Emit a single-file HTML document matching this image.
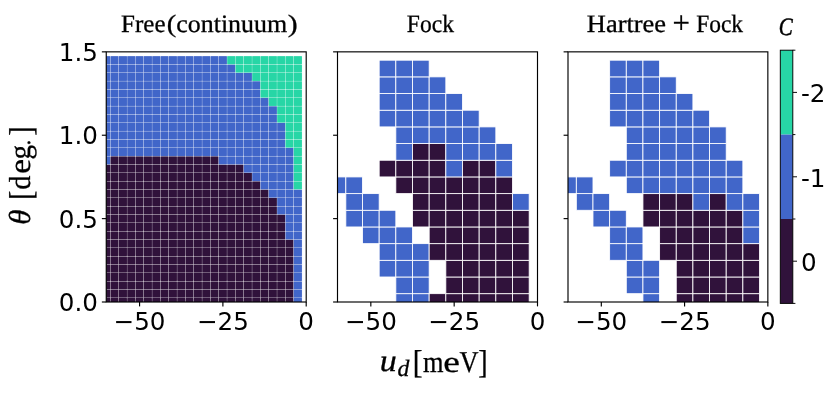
<!DOCTYPE html>
<html><head><meta charset="utf-8"><title>Chern number phase diagrams</title>
<style>html,body{margin:0;padding:0;background:#fff}svg{display:block}</style></head>
<body>
<svg width="830" height="393" viewBox="0 0 830 393">
<rect width="830" height="393" fill="#fff"/>
<defs>
<clipPath id="cp0"><rect x="106.25" y="51.85" width="199.95" height="250.15"/></clipPath>
<clipPath id="cp1"><rect x="337.50" y="51.85" width="200.00" height="250.15"/></clipPath>
<clipPath id="cp2"><rect x="568.00" y="51.85" width="199.85" height="250.15"/></clipPath>
</defs>
<g clip-path="url(#cp0)" stroke="#fff" stroke-width="0.195">
<rect x="102.08" y="297.83" width="8.33" height="8.34" fill="#30123b"/>
<rect x="110.42" y="297.83" width="8.33" height="8.34" fill="#30123b"/>
<rect x="118.75" y="297.83" width="8.33" height="8.34" fill="#30123b"/>
<rect x="127.08" y="297.83" width="8.33" height="8.34" fill="#30123b"/>
<rect x="135.41" y="297.83" width="8.33" height="8.34" fill="#30123b"/>
<rect x="143.74" y="297.83" width="8.33" height="8.34" fill="#30123b"/>
<rect x="152.07" y="297.83" width="8.33" height="8.34" fill="#30123b"/>
<rect x="160.40" y="297.83" width="8.33" height="8.34" fill="#30123b"/>
<rect x="168.73" y="297.83" width="8.33" height="8.34" fill="#30123b"/>
<rect x="177.07" y="297.83" width="8.33" height="8.34" fill="#30123b"/>
<rect x="185.40" y="297.83" width="8.33" height="8.34" fill="#30123b"/>
<rect x="193.73" y="297.83" width="8.33" height="8.34" fill="#30123b"/>
<rect x="202.06" y="297.83" width="8.33" height="8.34" fill="#30123b"/>
<rect x="210.39" y="297.83" width="8.33" height="8.34" fill="#30123b"/>
<rect x="218.72" y="297.83" width="8.33" height="8.34" fill="#30123b"/>
<rect x="227.05" y="297.83" width="8.33" height="8.34" fill="#30123b"/>
<rect x="235.38" y="297.83" width="8.33" height="8.34" fill="#30123b"/>
<rect x="243.72" y="297.83" width="8.33" height="8.34" fill="#30123b"/>
<rect x="252.05" y="297.83" width="8.33" height="8.34" fill="#30123b"/>
<rect x="260.38" y="297.83" width="8.33" height="8.34" fill="#30123b"/>
<rect x="268.71" y="297.83" width="8.33" height="8.34" fill="#30123b"/>
<rect x="277.04" y="297.83" width="8.33" height="8.34" fill="#30123b"/>
<rect x="285.37" y="297.83" width="8.33" height="8.34" fill="#30123b"/>
<rect x="293.70" y="297.83" width="8.33" height="8.34" fill="#4166c9"/>
<rect x="102.08" y="289.49" width="8.33" height="8.34" fill="#30123b"/>
<rect x="110.42" y="289.49" width="8.33" height="8.34" fill="#30123b"/>
<rect x="118.75" y="289.49" width="8.33" height="8.34" fill="#30123b"/>
<rect x="127.08" y="289.49" width="8.33" height="8.34" fill="#30123b"/>
<rect x="135.41" y="289.49" width="8.33" height="8.34" fill="#30123b"/>
<rect x="143.74" y="289.49" width="8.33" height="8.34" fill="#30123b"/>
<rect x="152.07" y="289.49" width="8.33" height="8.34" fill="#30123b"/>
<rect x="160.40" y="289.49" width="8.33" height="8.34" fill="#30123b"/>
<rect x="168.73" y="289.49" width="8.33" height="8.34" fill="#30123b"/>
<rect x="177.07" y="289.49" width="8.33" height="8.34" fill="#30123b"/>
<rect x="185.40" y="289.49" width="8.33" height="8.34" fill="#30123b"/>
<rect x="193.73" y="289.49" width="8.33" height="8.34" fill="#30123b"/>
<rect x="202.06" y="289.49" width="8.33" height="8.34" fill="#30123b"/>
<rect x="210.39" y="289.49" width="8.33" height="8.34" fill="#30123b"/>
<rect x="218.72" y="289.49" width="8.33" height="8.34" fill="#30123b"/>
<rect x="227.05" y="289.49" width="8.33" height="8.34" fill="#30123b"/>
<rect x="235.38" y="289.49" width="8.33" height="8.34" fill="#30123b"/>
<rect x="243.72" y="289.49" width="8.33" height="8.34" fill="#30123b"/>
<rect x="252.05" y="289.49" width="8.33" height="8.34" fill="#30123b"/>
<rect x="260.38" y="289.49" width="8.33" height="8.34" fill="#30123b"/>
<rect x="268.71" y="289.49" width="8.33" height="8.34" fill="#30123b"/>
<rect x="277.04" y="289.49" width="8.33" height="8.34" fill="#30123b"/>
<rect x="285.37" y="289.49" width="8.33" height="8.34" fill="#30123b"/>
<rect x="293.70" y="289.49" width="8.33" height="8.34" fill="#4166c9"/>
<rect x="102.08" y="281.15" width="8.33" height="8.34" fill="#30123b"/>
<rect x="110.42" y="281.15" width="8.33" height="8.34" fill="#30123b"/>
<rect x="118.75" y="281.15" width="8.33" height="8.34" fill="#30123b"/>
<rect x="127.08" y="281.15" width="8.33" height="8.34" fill="#30123b"/>
<rect x="135.41" y="281.15" width="8.33" height="8.34" fill="#30123b"/>
<rect x="143.74" y="281.15" width="8.33" height="8.34" fill="#30123b"/>
<rect x="152.07" y="281.15" width="8.33" height="8.34" fill="#30123b"/>
<rect x="160.40" y="281.15" width="8.33" height="8.34" fill="#30123b"/>
<rect x="168.73" y="281.15" width="8.33" height="8.34" fill="#30123b"/>
<rect x="177.07" y="281.15" width="8.33" height="8.34" fill="#30123b"/>
<rect x="185.40" y="281.15" width="8.33" height="8.34" fill="#30123b"/>
<rect x="193.73" y="281.15" width="8.33" height="8.34" fill="#30123b"/>
<rect x="202.06" y="281.15" width="8.33" height="8.34" fill="#30123b"/>
<rect x="210.39" y="281.15" width="8.33" height="8.34" fill="#30123b"/>
<rect x="218.72" y="281.15" width="8.33" height="8.34" fill="#30123b"/>
<rect x="227.05" y="281.15" width="8.33" height="8.34" fill="#30123b"/>
<rect x="235.38" y="281.15" width="8.33" height="8.34" fill="#30123b"/>
<rect x="243.72" y="281.15" width="8.33" height="8.34" fill="#30123b"/>
<rect x="252.05" y="281.15" width="8.33" height="8.34" fill="#30123b"/>
<rect x="260.38" y="281.15" width="8.33" height="8.34" fill="#30123b"/>
<rect x="268.71" y="281.15" width="8.33" height="8.34" fill="#30123b"/>
<rect x="277.04" y="281.15" width="8.33" height="8.34" fill="#30123b"/>
<rect x="285.37" y="281.15" width="8.33" height="8.34" fill="#30123b"/>
<rect x="293.70" y="281.15" width="8.33" height="8.34" fill="#4166c9"/>
<rect x="102.08" y="272.82" width="8.33" height="8.34" fill="#30123b"/>
<rect x="110.42" y="272.82" width="8.33" height="8.34" fill="#30123b"/>
<rect x="118.75" y="272.82" width="8.33" height="8.34" fill="#30123b"/>
<rect x="127.08" y="272.82" width="8.33" height="8.34" fill="#30123b"/>
<rect x="135.41" y="272.82" width="8.33" height="8.34" fill="#30123b"/>
<rect x="143.74" y="272.82" width="8.33" height="8.34" fill="#30123b"/>
<rect x="152.07" y="272.82" width="8.33" height="8.34" fill="#30123b"/>
<rect x="160.40" y="272.82" width="8.33" height="8.34" fill="#30123b"/>
<rect x="168.73" y="272.82" width="8.33" height="8.34" fill="#30123b"/>
<rect x="177.07" y="272.82" width="8.33" height="8.34" fill="#30123b"/>
<rect x="185.40" y="272.82" width="8.33" height="8.34" fill="#30123b"/>
<rect x="193.73" y="272.82" width="8.33" height="8.34" fill="#30123b"/>
<rect x="202.06" y="272.82" width="8.33" height="8.34" fill="#30123b"/>
<rect x="210.39" y="272.82" width="8.33" height="8.34" fill="#30123b"/>
<rect x="218.72" y="272.82" width="8.33" height="8.34" fill="#30123b"/>
<rect x="227.05" y="272.82" width="8.33" height="8.34" fill="#30123b"/>
<rect x="235.38" y="272.82" width="8.33" height="8.34" fill="#30123b"/>
<rect x="243.72" y="272.82" width="8.33" height="8.34" fill="#30123b"/>
<rect x="252.05" y="272.82" width="8.33" height="8.34" fill="#30123b"/>
<rect x="260.38" y="272.82" width="8.33" height="8.34" fill="#30123b"/>
<rect x="268.71" y="272.82" width="8.33" height="8.34" fill="#30123b"/>
<rect x="277.04" y="272.82" width="8.33" height="8.34" fill="#30123b"/>
<rect x="285.37" y="272.82" width="8.33" height="8.34" fill="#30123b"/>
<rect x="293.70" y="272.82" width="8.33" height="8.34" fill="#4166c9"/>
<rect x="102.08" y="264.48" width="8.33" height="8.34" fill="#30123b"/>
<rect x="110.42" y="264.48" width="8.33" height="8.34" fill="#30123b"/>
<rect x="118.75" y="264.48" width="8.33" height="8.34" fill="#30123b"/>
<rect x="127.08" y="264.48" width="8.33" height="8.34" fill="#30123b"/>
<rect x="135.41" y="264.48" width="8.33" height="8.34" fill="#30123b"/>
<rect x="143.74" y="264.48" width="8.33" height="8.34" fill="#30123b"/>
<rect x="152.07" y="264.48" width="8.33" height="8.34" fill="#30123b"/>
<rect x="160.40" y="264.48" width="8.33" height="8.34" fill="#30123b"/>
<rect x="168.73" y="264.48" width="8.33" height="8.34" fill="#30123b"/>
<rect x="177.07" y="264.48" width="8.33" height="8.34" fill="#30123b"/>
<rect x="185.40" y="264.48" width="8.33" height="8.34" fill="#30123b"/>
<rect x="193.73" y="264.48" width="8.33" height="8.34" fill="#30123b"/>
<rect x="202.06" y="264.48" width="8.33" height="8.34" fill="#30123b"/>
<rect x="210.39" y="264.48" width="8.33" height="8.34" fill="#30123b"/>
<rect x="218.72" y="264.48" width="8.33" height="8.34" fill="#30123b"/>
<rect x="227.05" y="264.48" width="8.33" height="8.34" fill="#30123b"/>
<rect x="235.38" y="264.48" width="8.33" height="8.34" fill="#30123b"/>
<rect x="243.72" y="264.48" width="8.33" height="8.34" fill="#30123b"/>
<rect x="252.05" y="264.48" width="8.33" height="8.34" fill="#30123b"/>
<rect x="260.38" y="264.48" width="8.33" height="8.34" fill="#30123b"/>
<rect x="268.71" y="264.48" width="8.33" height="8.34" fill="#30123b"/>
<rect x="277.04" y="264.48" width="8.33" height="8.34" fill="#30123b"/>
<rect x="285.37" y="264.48" width="8.33" height="8.34" fill="#30123b"/>
<rect x="293.70" y="264.48" width="8.33" height="8.34" fill="#4166c9"/>
<rect x="102.08" y="256.14" width="8.33" height="8.34" fill="#30123b"/>
<rect x="110.42" y="256.14" width="8.33" height="8.34" fill="#30123b"/>
<rect x="118.75" y="256.14" width="8.33" height="8.34" fill="#30123b"/>
<rect x="127.08" y="256.14" width="8.33" height="8.34" fill="#30123b"/>
<rect x="135.41" y="256.14" width="8.33" height="8.34" fill="#30123b"/>
<rect x="143.74" y="256.14" width="8.33" height="8.34" fill="#30123b"/>
<rect x="152.07" y="256.14" width="8.33" height="8.34" fill="#30123b"/>
<rect x="160.40" y="256.14" width="8.33" height="8.34" fill="#30123b"/>
<rect x="168.73" y="256.14" width="8.33" height="8.34" fill="#30123b"/>
<rect x="177.07" y="256.14" width="8.33" height="8.34" fill="#30123b"/>
<rect x="185.40" y="256.14" width="8.33" height="8.34" fill="#30123b"/>
<rect x="193.73" y="256.14" width="8.33" height="8.34" fill="#30123b"/>
<rect x="202.06" y="256.14" width="8.33" height="8.34" fill="#30123b"/>
<rect x="210.39" y="256.14" width="8.33" height="8.34" fill="#30123b"/>
<rect x="218.72" y="256.14" width="8.33" height="8.34" fill="#30123b"/>
<rect x="227.05" y="256.14" width="8.33" height="8.34" fill="#30123b"/>
<rect x="235.38" y="256.14" width="8.33" height="8.34" fill="#30123b"/>
<rect x="243.72" y="256.14" width="8.33" height="8.34" fill="#30123b"/>
<rect x="252.05" y="256.14" width="8.33" height="8.34" fill="#30123b"/>
<rect x="260.38" y="256.14" width="8.33" height="8.34" fill="#30123b"/>
<rect x="268.71" y="256.14" width="8.33" height="8.34" fill="#30123b"/>
<rect x="277.04" y="256.14" width="8.33" height="8.34" fill="#30123b"/>
<rect x="285.37" y="256.14" width="8.33" height="8.34" fill="#30123b"/>
<rect x="293.70" y="256.14" width="8.33" height="8.34" fill="#4166c9"/>
<rect x="102.08" y="247.80" width="8.33" height="8.34" fill="#30123b"/>
<rect x="110.42" y="247.80" width="8.33" height="8.34" fill="#30123b"/>
<rect x="118.75" y="247.80" width="8.33" height="8.34" fill="#30123b"/>
<rect x="127.08" y="247.80" width="8.33" height="8.34" fill="#30123b"/>
<rect x="135.41" y="247.80" width="8.33" height="8.34" fill="#30123b"/>
<rect x="143.74" y="247.80" width="8.33" height="8.34" fill="#30123b"/>
<rect x="152.07" y="247.80" width="8.33" height="8.34" fill="#30123b"/>
<rect x="160.40" y="247.80" width="8.33" height="8.34" fill="#30123b"/>
<rect x="168.73" y="247.80" width="8.33" height="8.34" fill="#30123b"/>
<rect x="177.07" y="247.80" width="8.33" height="8.34" fill="#30123b"/>
<rect x="185.40" y="247.80" width="8.33" height="8.34" fill="#30123b"/>
<rect x="193.73" y="247.80" width="8.33" height="8.34" fill="#30123b"/>
<rect x="202.06" y="247.80" width="8.33" height="8.34" fill="#30123b"/>
<rect x="210.39" y="247.80" width="8.33" height="8.34" fill="#30123b"/>
<rect x="218.72" y="247.80" width="8.33" height="8.34" fill="#30123b"/>
<rect x="227.05" y="247.80" width="8.33" height="8.34" fill="#30123b"/>
<rect x="235.38" y="247.80" width="8.33" height="8.34" fill="#30123b"/>
<rect x="243.72" y="247.80" width="8.33" height="8.34" fill="#30123b"/>
<rect x="252.05" y="247.80" width="8.33" height="8.34" fill="#30123b"/>
<rect x="260.38" y="247.80" width="8.33" height="8.34" fill="#30123b"/>
<rect x="268.71" y="247.80" width="8.33" height="8.34" fill="#30123b"/>
<rect x="277.04" y="247.80" width="8.33" height="8.34" fill="#30123b"/>
<rect x="285.37" y="247.80" width="8.33" height="8.34" fill="#30123b"/>
<rect x="293.70" y="247.80" width="8.33" height="8.34" fill="#4166c9"/>
<rect x="102.08" y="239.46" width="8.33" height="8.34" fill="#30123b"/>
<rect x="110.42" y="239.46" width="8.33" height="8.34" fill="#30123b"/>
<rect x="118.75" y="239.46" width="8.33" height="8.34" fill="#30123b"/>
<rect x="127.08" y="239.46" width="8.33" height="8.34" fill="#30123b"/>
<rect x="135.41" y="239.46" width="8.33" height="8.34" fill="#30123b"/>
<rect x="143.74" y="239.46" width="8.33" height="8.34" fill="#30123b"/>
<rect x="152.07" y="239.46" width="8.33" height="8.34" fill="#30123b"/>
<rect x="160.40" y="239.46" width="8.33" height="8.34" fill="#30123b"/>
<rect x="168.73" y="239.46" width="8.33" height="8.34" fill="#30123b"/>
<rect x="177.07" y="239.46" width="8.33" height="8.34" fill="#30123b"/>
<rect x="185.40" y="239.46" width="8.33" height="8.34" fill="#30123b"/>
<rect x="193.73" y="239.46" width="8.33" height="8.34" fill="#30123b"/>
<rect x="202.06" y="239.46" width="8.33" height="8.34" fill="#30123b"/>
<rect x="210.39" y="239.46" width="8.33" height="8.34" fill="#30123b"/>
<rect x="218.72" y="239.46" width="8.33" height="8.34" fill="#30123b"/>
<rect x="227.05" y="239.46" width="8.33" height="8.34" fill="#30123b"/>
<rect x="235.38" y="239.46" width="8.33" height="8.34" fill="#30123b"/>
<rect x="243.72" y="239.46" width="8.33" height="8.34" fill="#30123b"/>
<rect x="252.05" y="239.46" width="8.33" height="8.34" fill="#30123b"/>
<rect x="260.38" y="239.46" width="8.33" height="8.34" fill="#30123b"/>
<rect x="268.71" y="239.46" width="8.33" height="8.34" fill="#30123b"/>
<rect x="277.04" y="239.46" width="8.33" height="8.34" fill="#30123b"/>
<rect x="285.37" y="239.46" width="8.33" height="8.34" fill="#30123b"/>
<rect x="293.70" y="239.46" width="8.33" height="8.34" fill="#4166c9"/>
<rect x="102.08" y="231.12" width="8.33" height="8.34" fill="#30123b"/>
<rect x="110.42" y="231.12" width="8.33" height="8.34" fill="#30123b"/>
<rect x="118.75" y="231.12" width="8.33" height="8.34" fill="#30123b"/>
<rect x="127.08" y="231.12" width="8.33" height="8.34" fill="#30123b"/>
<rect x="135.41" y="231.12" width="8.33" height="8.34" fill="#30123b"/>
<rect x="143.74" y="231.12" width="8.33" height="8.34" fill="#30123b"/>
<rect x="152.07" y="231.12" width="8.33" height="8.34" fill="#30123b"/>
<rect x="160.40" y="231.12" width="8.33" height="8.34" fill="#30123b"/>
<rect x="168.73" y="231.12" width="8.33" height="8.34" fill="#30123b"/>
<rect x="177.07" y="231.12" width="8.33" height="8.34" fill="#30123b"/>
<rect x="185.40" y="231.12" width="8.33" height="8.34" fill="#30123b"/>
<rect x="193.73" y="231.12" width="8.33" height="8.34" fill="#30123b"/>
<rect x="202.06" y="231.12" width="8.33" height="8.34" fill="#30123b"/>
<rect x="210.39" y="231.12" width="8.33" height="8.34" fill="#30123b"/>
<rect x="218.72" y="231.12" width="8.33" height="8.34" fill="#30123b"/>
<rect x="227.05" y="231.12" width="8.33" height="8.34" fill="#30123b"/>
<rect x="235.38" y="231.12" width="8.33" height="8.34" fill="#30123b"/>
<rect x="243.72" y="231.12" width="8.33" height="8.34" fill="#30123b"/>
<rect x="252.05" y="231.12" width="8.33" height="8.34" fill="#30123b"/>
<rect x="260.38" y="231.12" width="8.33" height="8.34" fill="#30123b"/>
<rect x="268.71" y="231.12" width="8.33" height="8.34" fill="#30123b"/>
<rect x="277.04" y="231.12" width="8.33" height="8.34" fill="#30123b"/>
<rect x="285.37" y="231.12" width="8.33" height="8.34" fill="#4166c9"/>
<rect x="293.70" y="231.12" width="8.33" height="8.34" fill="#4166c9"/>
<rect x="102.08" y="222.79" width="8.33" height="8.34" fill="#30123b"/>
<rect x="110.42" y="222.79" width="8.33" height="8.34" fill="#30123b"/>
<rect x="118.75" y="222.79" width="8.33" height="8.34" fill="#30123b"/>
<rect x="127.08" y="222.79" width="8.33" height="8.34" fill="#30123b"/>
<rect x="135.41" y="222.79" width="8.33" height="8.34" fill="#30123b"/>
<rect x="143.74" y="222.79" width="8.33" height="8.34" fill="#30123b"/>
<rect x="152.07" y="222.79" width="8.33" height="8.34" fill="#30123b"/>
<rect x="160.40" y="222.79" width="8.33" height="8.34" fill="#30123b"/>
<rect x="168.73" y="222.79" width="8.33" height="8.34" fill="#30123b"/>
<rect x="177.07" y="222.79" width="8.33" height="8.34" fill="#30123b"/>
<rect x="185.40" y="222.79" width="8.33" height="8.34" fill="#30123b"/>
<rect x="193.73" y="222.79" width="8.33" height="8.34" fill="#30123b"/>
<rect x="202.06" y="222.79" width="8.33" height="8.34" fill="#30123b"/>
<rect x="210.39" y="222.79" width="8.33" height="8.34" fill="#30123b"/>
<rect x="218.72" y="222.79" width="8.33" height="8.34" fill="#30123b"/>
<rect x="227.05" y="222.79" width="8.33" height="8.34" fill="#30123b"/>
<rect x="235.38" y="222.79" width="8.33" height="8.34" fill="#30123b"/>
<rect x="243.72" y="222.79" width="8.33" height="8.34" fill="#30123b"/>
<rect x="252.05" y="222.79" width="8.33" height="8.34" fill="#30123b"/>
<rect x="260.38" y="222.79" width="8.33" height="8.34" fill="#30123b"/>
<rect x="268.71" y="222.79" width="8.33" height="8.34" fill="#30123b"/>
<rect x="277.04" y="222.79" width="8.33" height="8.34" fill="#30123b"/>
<rect x="285.37" y="222.79" width="8.33" height="8.34" fill="#4166c9"/>
<rect x="293.70" y="222.79" width="8.33" height="8.34" fill="#4166c9"/>
<rect x="102.08" y="214.45" width="8.33" height="8.34" fill="#30123b"/>
<rect x="110.42" y="214.45" width="8.33" height="8.34" fill="#30123b"/>
<rect x="118.75" y="214.45" width="8.33" height="8.34" fill="#30123b"/>
<rect x="127.08" y="214.45" width="8.33" height="8.34" fill="#30123b"/>
<rect x="135.41" y="214.45" width="8.33" height="8.34" fill="#30123b"/>
<rect x="143.74" y="214.45" width="8.33" height="8.34" fill="#30123b"/>
<rect x="152.07" y="214.45" width="8.33" height="8.34" fill="#30123b"/>
<rect x="160.40" y="214.45" width="8.33" height="8.34" fill="#30123b"/>
<rect x="168.73" y="214.45" width="8.33" height="8.34" fill="#30123b"/>
<rect x="177.07" y="214.45" width="8.33" height="8.34" fill="#30123b"/>
<rect x="185.40" y="214.45" width="8.33" height="8.34" fill="#30123b"/>
<rect x="193.73" y="214.45" width="8.33" height="8.34" fill="#30123b"/>
<rect x="202.06" y="214.45" width="8.33" height="8.34" fill="#30123b"/>
<rect x="210.39" y="214.45" width="8.33" height="8.34" fill="#30123b"/>
<rect x="218.72" y="214.45" width="8.33" height="8.34" fill="#30123b"/>
<rect x="227.05" y="214.45" width="8.33" height="8.34" fill="#30123b"/>
<rect x="235.38" y="214.45" width="8.33" height="8.34" fill="#30123b"/>
<rect x="243.72" y="214.45" width="8.33" height="8.34" fill="#30123b"/>
<rect x="252.05" y="214.45" width="8.33" height="8.34" fill="#30123b"/>
<rect x="260.38" y="214.45" width="8.33" height="8.34" fill="#30123b"/>
<rect x="268.71" y="214.45" width="8.33" height="8.34" fill="#30123b"/>
<rect x="277.04" y="214.45" width="8.33" height="8.34" fill="#30123b"/>
<rect x="285.37" y="214.45" width="8.33" height="8.34" fill="#4166c9"/>
<rect x="293.70" y="214.45" width="8.33" height="8.34" fill="#4166c9"/>
<rect x="102.08" y="206.11" width="8.33" height="8.34" fill="#30123b"/>
<rect x="110.42" y="206.11" width="8.33" height="8.34" fill="#30123b"/>
<rect x="118.75" y="206.11" width="8.33" height="8.34" fill="#30123b"/>
<rect x="127.08" y="206.11" width="8.33" height="8.34" fill="#30123b"/>
<rect x="135.41" y="206.11" width="8.33" height="8.34" fill="#30123b"/>
<rect x="143.74" y="206.11" width="8.33" height="8.34" fill="#30123b"/>
<rect x="152.07" y="206.11" width="8.33" height="8.34" fill="#30123b"/>
<rect x="160.40" y="206.11" width="8.33" height="8.34" fill="#30123b"/>
<rect x="168.73" y="206.11" width="8.33" height="8.34" fill="#30123b"/>
<rect x="177.07" y="206.11" width="8.33" height="8.34" fill="#30123b"/>
<rect x="185.40" y="206.11" width="8.33" height="8.34" fill="#30123b"/>
<rect x="193.73" y="206.11" width="8.33" height="8.34" fill="#30123b"/>
<rect x="202.06" y="206.11" width="8.33" height="8.34" fill="#30123b"/>
<rect x="210.39" y="206.11" width="8.33" height="8.34" fill="#30123b"/>
<rect x="218.72" y="206.11" width="8.33" height="8.34" fill="#30123b"/>
<rect x="227.05" y="206.11" width="8.33" height="8.34" fill="#30123b"/>
<rect x="235.38" y="206.11" width="8.33" height="8.34" fill="#30123b"/>
<rect x="243.72" y="206.11" width="8.33" height="8.34" fill="#30123b"/>
<rect x="252.05" y="206.11" width="8.33" height="8.34" fill="#30123b"/>
<rect x="260.38" y="206.11" width="8.33" height="8.34" fill="#30123b"/>
<rect x="268.71" y="206.11" width="8.33" height="8.34" fill="#30123b"/>
<rect x="277.04" y="206.11" width="8.33" height="8.34" fill="#4166c9"/>
<rect x="285.37" y="206.11" width="8.33" height="8.34" fill="#4166c9"/>
<rect x="293.70" y="206.11" width="8.33" height="8.34" fill="#4166c9"/>
<rect x="102.08" y="197.77" width="8.33" height="8.34" fill="#30123b"/>
<rect x="110.42" y="197.77" width="8.33" height="8.34" fill="#30123b"/>
<rect x="118.75" y="197.77" width="8.33" height="8.34" fill="#30123b"/>
<rect x="127.08" y="197.77" width="8.33" height="8.34" fill="#30123b"/>
<rect x="135.41" y="197.77" width="8.33" height="8.34" fill="#30123b"/>
<rect x="143.74" y="197.77" width="8.33" height="8.34" fill="#30123b"/>
<rect x="152.07" y="197.77" width="8.33" height="8.34" fill="#30123b"/>
<rect x="160.40" y="197.77" width="8.33" height="8.34" fill="#30123b"/>
<rect x="168.73" y="197.77" width="8.33" height="8.34" fill="#30123b"/>
<rect x="177.07" y="197.77" width="8.33" height="8.34" fill="#30123b"/>
<rect x="185.40" y="197.77" width="8.33" height="8.34" fill="#30123b"/>
<rect x="193.73" y="197.77" width="8.33" height="8.34" fill="#30123b"/>
<rect x="202.06" y="197.77" width="8.33" height="8.34" fill="#30123b"/>
<rect x="210.39" y="197.77" width="8.33" height="8.34" fill="#30123b"/>
<rect x="218.72" y="197.77" width="8.33" height="8.34" fill="#30123b"/>
<rect x="227.05" y="197.77" width="8.33" height="8.34" fill="#30123b"/>
<rect x="235.38" y="197.77" width="8.33" height="8.34" fill="#30123b"/>
<rect x="243.72" y="197.77" width="8.33" height="8.34" fill="#30123b"/>
<rect x="252.05" y="197.77" width="8.33" height="8.34" fill="#30123b"/>
<rect x="260.38" y="197.77" width="8.33" height="8.34" fill="#30123b"/>
<rect x="268.71" y="197.77" width="8.33" height="8.34" fill="#30123b"/>
<rect x="277.04" y="197.77" width="8.33" height="8.34" fill="#4166c9"/>
<rect x="285.37" y="197.77" width="8.33" height="8.34" fill="#4166c9"/>
<rect x="293.70" y="197.77" width="8.33" height="8.34" fill="#4166c9"/>
<rect x="102.08" y="189.43" width="8.33" height="8.34" fill="#30123b"/>
<rect x="110.42" y="189.43" width="8.33" height="8.34" fill="#30123b"/>
<rect x="118.75" y="189.43" width="8.33" height="8.34" fill="#30123b"/>
<rect x="127.08" y="189.43" width="8.33" height="8.34" fill="#30123b"/>
<rect x="135.41" y="189.43" width="8.33" height="8.34" fill="#30123b"/>
<rect x="143.74" y="189.43" width="8.33" height="8.34" fill="#30123b"/>
<rect x="152.07" y="189.43" width="8.33" height="8.34" fill="#30123b"/>
<rect x="160.40" y="189.43" width="8.33" height="8.34" fill="#30123b"/>
<rect x="168.73" y="189.43" width="8.33" height="8.34" fill="#30123b"/>
<rect x="177.07" y="189.43" width="8.33" height="8.34" fill="#30123b"/>
<rect x="185.40" y="189.43" width="8.33" height="8.34" fill="#30123b"/>
<rect x="193.73" y="189.43" width="8.33" height="8.34" fill="#30123b"/>
<rect x="202.06" y="189.43" width="8.33" height="8.34" fill="#30123b"/>
<rect x="210.39" y="189.43" width="8.33" height="8.34" fill="#30123b"/>
<rect x="218.72" y="189.43" width="8.33" height="8.34" fill="#30123b"/>
<rect x="227.05" y="189.43" width="8.33" height="8.34" fill="#30123b"/>
<rect x="235.38" y="189.43" width="8.33" height="8.34" fill="#30123b"/>
<rect x="243.72" y="189.43" width="8.33" height="8.34" fill="#30123b"/>
<rect x="252.05" y="189.43" width="8.33" height="8.34" fill="#30123b"/>
<rect x="260.38" y="189.43" width="8.33" height="8.34" fill="#30123b"/>
<rect x="268.71" y="189.43" width="8.33" height="8.34" fill="#4166c9"/>
<rect x="277.04" y="189.43" width="8.33" height="8.34" fill="#4166c9"/>
<rect x="285.37" y="189.43" width="8.33" height="8.34" fill="#4166c9"/>
<rect x="293.70" y="189.43" width="8.33" height="8.34" fill="#4166c9"/>
<rect x="102.08" y="181.09" width="8.33" height="8.34" fill="#30123b"/>
<rect x="110.42" y="181.09" width="8.33" height="8.34" fill="#30123b"/>
<rect x="118.75" y="181.09" width="8.33" height="8.34" fill="#30123b"/>
<rect x="127.08" y="181.09" width="8.33" height="8.34" fill="#30123b"/>
<rect x="135.41" y="181.09" width="8.33" height="8.34" fill="#30123b"/>
<rect x="143.74" y="181.09" width="8.33" height="8.34" fill="#30123b"/>
<rect x="152.07" y="181.09" width="8.33" height="8.34" fill="#30123b"/>
<rect x="160.40" y="181.09" width="8.33" height="8.34" fill="#30123b"/>
<rect x="168.73" y="181.09" width="8.33" height="8.34" fill="#30123b"/>
<rect x="177.07" y="181.09" width="8.33" height="8.34" fill="#30123b"/>
<rect x="185.40" y="181.09" width="8.33" height="8.34" fill="#30123b"/>
<rect x="193.73" y="181.09" width="8.33" height="8.34" fill="#30123b"/>
<rect x="202.06" y="181.09" width="8.33" height="8.34" fill="#30123b"/>
<rect x="210.39" y="181.09" width="8.33" height="8.34" fill="#30123b"/>
<rect x="218.72" y="181.09" width="8.33" height="8.34" fill="#30123b"/>
<rect x="227.05" y="181.09" width="8.33" height="8.34" fill="#30123b"/>
<rect x="235.38" y="181.09" width="8.33" height="8.34" fill="#30123b"/>
<rect x="243.72" y="181.09" width="8.33" height="8.34" fill="#30123b"/>
<rect x="252.05" y="181.09" width="8.33" height="8.34" fill="#30123b"/>
<rect x="260.38" y="181.09" width="8.33" height="8.34" fill="#4166c9"/>
<rect x="268.71" y="181.09" width="8.33" height="8.34" fill="#4166c9"/>
<rect x="277.04" y="181.09" width="8.33" height="8.34" fill="#4166c9"/>
<rect x="285.37" y="181.09" width="8.33" height="8.34" fill="#4166c9"/>
<rect x="293.70" y="181.09" width="8.33" height="8.34" fill="#27d6a6"/>
<rect x="102.08" y="172.76" width="8.33" height="8.34" fill="#30123b"/>
<rect x="110.42" y="172.76" width="8.33" height="8.34" fill="#30123b"/>
<rect x="118.75" y="172.76" width="8.33" height="8.34" fill="#30123b"/>
<rect x="127.08" y="172.76" width="8.33" height="8.34" fill="#30123b"/>
<rect x="135.41" y="172.76" width="8.33" height="8.34" fill="#30123b"/>
<rect x="143.74" y="172.76" width="8.33" height="8.34" fill="#30123b"/>
<rect x="152.07" y="172.76" width="8.33" height="8.34" fill="#30123b"/>
<rect x="160.40" y="172.76" width="8.33" height="8.34" fill="#30123b"/>
<rect x="168.73" y="172.76" width="8.33" height="8.34" fill="#30123b"/>
<rect x="177.07" y="172.76" width="8.33" height="8.34" fill="#30123b"/>
<rect x="185.40" y="172.76" width="8.33" height="8.34" fill="#30123b"/>
<rect x="193.73" y="172.76" width="8.33" height="8.34" fill="#30123b"/>
<rect x="202.06" y="172.76" width="8.33" height="8.34" fill="#30123b"/>
<rect x="210.39" y="172.76" width="8.33" height="8.34" fill="#30123b"/>
<rect x="218.72" y="172.76" width="8.33" height="8.34" fill="#30123b"/>
<rect x="227.05" y="172.76" width="8.33" height="8.34" fill="#30123b"/>
<rect x="235.38" y="172.76" width="8.33" height="8.34" fill="#30123b"/>
<rect x="243.72" y="172.76" width="8.33" height="8.34" fill="#30123b"/>
<rect x="252.05" y="172.76" width="8.33" height="8.34" fill="#4166c9"/>
<rect x="260.38" y="172.76" width="8.33" height="8.34" fill="#4166c9"/>
<rect x="268.71" y="172.76" width="8.33" height="8.34" fill="#4166c9"/>
<rect x="277.04" y="172.76" width="8.33" height="8.34" fill="#4166c9"/>
<rect x="285.37" y="172.76" width="8.33" height="8.34" fill="#4166c9"/>
<rect x="293.70" y="172.76" width="8.33" height="8.34" fill="#27d6a6"/>
<rect x="102.08" y="164.42" width="8.33" height="8.34" fill="#30123b"/>
<rect x="110.42" y="164.42" width="8.33" height="8.34" fill="#30123b"/>
<rect x="118.75" y="164.42" width="8.33" height="8.34" fill="#30123b"/>
<rect x="127.08" y="164.42" width="8.33" height="8.34" fill="#30123b"/>
<rect x="135.41" y="164.42" width="8.33" height="8.34" fill="#30123b"/>
<rect x="143.74" y="164.42" width="8.33" height="8.34" fill="#30123b"/>
<rect x="152.07" y="164.42" width="8.33" height="8.34" fill="#30123b"/>
<rect x="160.40" y="164.42" width="8.33" height="8.34" fill="#30123b"/>
<rect x="168.73" y="164.42" width="8.33" height="8.34" fill="#30123b"/>
<rect x="177.07" y="164.42" width="8.33" height="8.34" fill="#30123b"/>
<rect x="185.40" y="164.42" width="8.33" height="8.34" fill="#30123b"/>
<rect x="193.73" y="164.42" width="8.33" height="8.34" fill="#30123b"/>
<rect x="202.06" y="164.42" width="8.33" height="8.34" fill="#30123b"/>
<rect x="210.39" y="164.42" width="8.33" height="8.34" fill="#30123b"/>
<rect x="218.72" y="164.42" width="8.33" height="8.34" fill="#30123b"/>
<rect x="227.05" y="164.42" width="8.33" height="8.34" fill="#30123b"/>
<rect x="235.38" y="164.42" width="8.33" height="8.34" fill="#30123b"/>
<rect x="243.72" y="164.42" width="8.33" height="8.34" fill="#4166c9"/>
<rect x="252.05" y="164.42" width="8.33" height="8.34" fill="#4166c9"/>
<rect x="260.38" y="164.42" width="8.33" height="8.34" fill="#4166c9"/>
<rect x="268.71" y="164.42" width="8.33" height="8.34" fill="#4166c9"/>
<rect x="277.04" y="164.42" width="8.33" height="8.34" fill="#4166c9"/>
<rect x="285.37" y="164.42" width="8.33" height="8.34" fill="#4166c9"/>
<rect x="293.70" y="164.42" width="8.33" height="8.34" fill="#27d6a6"/>
<rect x="102.08" y="156.08" width="8.33" height="8.34" fill="#4166c9"/>
<rect x="110.42" y="156.08" width="8.33" height="8.34" fill="#30123b"/>
<rect x="118.75" y="156.08" width="8.33" height="8.34" fill="#30123b"/>
<rect x="127.08" y="156.08" width="8.33" height="8.34" fill="#30123b"/>
<rect x="135.41" y="156.08" width="8.33" height="8.34" fill="#30123b"/>
<rect x="143.74" y="156.08" width="8.33" height="8.34" fill="#30123b"/>
<rect x="152.07" y="156.08" width="8.33" height="8.34" fill="#30123b"/>
<rect x="160.40" y="156.08" width="8.33" height="8.34" fill="#30123b"/>
<rect x="168.73" y="156.08" width="8.33" height="8.34" fill="#30123b"/>
<rect x="177.07" y="156.08" width="8.33" height="8.34" fill="#30123b"/>
<rect x="185.40" y="156.08" width="8.33" height="8.34" fill="#30123b"/>
<rect x="193.73" y="156.08" width="8.33" height="8.34" fill="#30123b"/>
<rect x="202.06" y="156.08" width="8.33" height="8.34" fill="#30123b"/>
<rect x="210.39" y="156.08" width="8.33" height="8.34" fill="#30123b"/>
<rect x="218.72" y="156.08" width="8.33" height="8.34" fill="#4166c9"/>
<rect x="227.05" y="156.08" width="8.33" height="8.34" fill="#4166c9"/>
<rect x="235.38" y="156.08" width="8.33" height="8.34" fill="#4166c9"/>
<rect x="243.72" y="156.08" width="8.33" height="8.34" fill="#4166c9"/>
<rect x="252.05" y="156.08" width="8.33" height="8.34" fill="#4166c9"/>
<rect x="260.38" y="156.08" width="8.33" height="8.34" fill="#4166c9"/>
<rect x="268.71" y="156.08" width="8.33" height="8.34" fill="#4166c9"/>
<rect x="277.04" y="156.08" width="8.33" height="8.34" fill="#4166c9"/>
<rect x="285.37" y="156.08" width="8.33" height="8.34" fill="#4166c9"/>
<rect x="293.70" y="156.08" width="8.33" height="8.34" fill="#27d6a6"/>
<rect x="102.08" y="147.74" width="8.33" height="8.34" fill="#4166c9"/>
<rect x="110.42" y="147.74" width="8.33" height="8.34" fill="#4166c9"/>
<rect x="118.75" y="147.74" width="8.33" height="8.34" fill="#4166c9"/>
<rect x="127.08" y="147.74" width="8.33" height="8.34" fill="#4166c9"/>
<rect x="135.41" y="147.74" width="8.33" height="8.34" fill="#4166c9"/>
<rect x="143.74" y="147.74" width="8.33" height="8.34" fill="#4166c9"/>
<rect x="152.07" y="147.74" width="8.33" height="8.34" fill="#4166c9"/>
<rect x="160.40" y="147.74" width="8.33" height="8.34" fill="#4166c9"/>
<rect x="168.73" y="147.74" width="8.33" height="8.34" fill="#4166c9"/>
<rect x="177.07" y="147.74" width="8.33" height="8.34" fill="#4166c9"/>
<rect x="185.40" y="147.74" width="8.33" height="8.34" fill="#4166c9"/>
<rect x="193.73" y="147.74" width="8.33" height="8.34" fill="#4166c9"/>
<rect x="202.06" y="147.74" width="8.33" height="8.34" fill="#4166c9"/>
<rect x="210.39" y="147.74" width="8.33" height="8.34" fill="#4166c9"/>
<rect x="218.72" y="147.74" width="8.33" height="8.34" fill="#4166c9"/>
<rect x="227.05" y="147.74" width="8.33" height="8.34" fill="#4166c9"/>
<rect x="235.38" y="147.74" width="8.33" height="8.34" fill="#4166c9"/>
<rect x="243.72" y="147.74" width="8.33" height="8.34" fill="#4166c9"/>
<rect x="252.05" y="147.74" width="8.33" height="8.34" fill="#4166c9"/>
<rect x="260.38" y="147.74" width="8.33" height="8.34" fill="#4166c9"/>
<rect x="268.71" y="147.74" width="8.33" height="8.34" fill="#4166c9"/>
<rect x="277.04" y="147.74" width="8.33" height="8.34" fill="#4166c9"/>
<rect x="285.37" y="147.74" width="8.33" height="8.34" fill="#4166c9"/>
<rect x="293.70" y="147.74" width="8.33" height="8.34" fill="#27d6a6"/>
<rect x="102.08" y="139.40" width="8.33" height="8.34" fill="#4166c9"/>
<rect x="110.42" y="139.40" width="8.33" height="8.34" fill="#4166c9"/>
<rect x="118.75" y="139.40" width="8.33" height="8.34" fill="#4166c9"/>
<rect x="127.08" y="139.40" width="8.33" height="8.34" fill="#4166c9"/>
<rect x="135.41" y="139.40" width="8.33" height="8.34" fill="#4166c9"/>
<rect x="143.74" y="139.40" width="8.33" height="8.34" fill="#4166c9"/>
<rect x="152.07" y="139.40" width="8.33" height="8.34" fill="#4166c9"/>
<rect x="160.40" y="139.40" width="8.33" height="8.34" fill="#4166c9"/>
<rect x="168.73" y="139.40" width="8.33" height="8.34" fill="#4166c9"/>
<rect x="177.07" y="139.40" width="8.33" height="8.34" fill="#4166c9"/>
<rect x="185.40" y="139.40" width="8.33" height="8.34" fill="#4166c9"/>
<rect x="193.73" y="139.40" width="8.33" height="8.34" fill="#4166c9"/>
<rect x="202.06" y="139.40" width="8.33" height="8.34" fill="#4166c9"/>
<rect x="210.39" y="139.40" width="8.33" height="8.34" fill="#4166c9"/>
<rect x="218.72" y="139.40" width="8.33" height="8.34" fill="#4166c9"/>
<rect x="227.05" y="139.40" width="8.33" height="8.34" fill="#4166c9"/>
<rect x="235.38" y="139.40" width="8.33" height="8.34" fill="#4166c9"/>
<rect x="243.72" y="139.40" width="8.33" height="8.34" fill="#4166c9"/>
<rect x="252.05" y="139.40" width="8.33" height="8.34" fill="#4166c9"/>
<rect x="260.38" y="139.40" width="8.33" height="8.34" fill="#4166c9"/>
<rect x="268.71" y="139.40" width="8.33" height="8.34" fill="#4166c9"/>
<rect x="277.04" y="139.40" width="8.33" height="8.34" fill="#4166c9"/>
<rect x="285.37" y="139.40" width="8.33" height="8.34" fill="#27d6a6"/>
<rect x="293.70" y="139.40" width="8.33" height="8.34" fill="#27d6a6"/>
<rect x="102.08" y="131.06" width="8.33" height="8.34" fill="#4166c9"/>
<rect x="110.42" y="131.06" width="8.33" height="8.34" fill="#4166c9"/>
<rect x="118.75" y="131.06" width="8.33" height="8.34" fill="#4166c9"/>
<rect x="127.08" y="131.06" width="8.33" height="8.34" fill="#4166c9"/>
<rect x="135.41" y="131.06" width="8.33" height="8.34" fill="#4166c9"/>
<rect x="143.74" y="131.06" width="8.33" height="8.34" fill="#4166c9"/>
<rect x="152.07" y="131.06" width="8.33" height="8.34" fill="#4166c9"/>
<rect x="160.40" y="131.06" width="8.33" height="8.34" fill="#4166c9"/>
<rect x="168.73" y="131.06" width="8.33" height="8.34" fill="#4166c9"/>
<rect x="177.07" y="131.06" width="8.33" height="8.34" fill="#4166c9"/>
<rect x="185.40" y="131.06" width="8.33" height="8.34" fill="#4166c9"/>
<rect x="193.73" y="131.06" width="8.33" height="8.34" fill="#4166c9"/>
<rect x="202.06" y="131.06" width="8.33" height="8.34" fill="#4166c9"/>
<rect x="210.39" y="131.06" width="8.33" height="8.34" fill="#4166c9"/>
<rect x="218.72" y="131.06" width="8.33" height="8.34" fill="#4166c9"/>
<rect x="227.05" y="131.06" width="8.33" height="8.34" fill="#4166c9"/>
<rect x="235.38" y="131.06" width="8.33" height="8.34" fill="#4166c9"/>
<rect x="243.72" y="131.06" width="8.33" height="8.34" fill="#4166c9"/>
<rect x="252.05" y="131.06" width="8.33" height="8.34" fill="#4166c9"/>
<rect x="260.38" y="131.06" width="8.33" height="8.34" fill="#4166c9"/>
<rect x="268.71" y="131.06" width="8.33" height="8.34" fill="#4166c9"/>
<rect x="277.04" y="131.06" width="8.33" height="8.34" fill="#4166c9"/>
<rect x="285.37" y="131.06" width="8.33" height="8.34" fill="#27d6a6"/>
<rect x="293.70" y="131.06" width="8.33" height="8.34" fill="#27d6a6"/>
<rect x="102.08" y="122.73" width="8.33" height="8.34" fill="#4166c9"/>
<rect x="110.42" y="122.73" width="8.33" height="8.34" fill="#4166c9"/>
<rect x="118.75" y="122.73" width="8.33" height="8.34" fill="#4166c9"/>
<rect x="127.08" y="122.73" width="8.33" height="8.34" fill="#4166c9"/>
<rect x="135.41" y="122.73" width="8.33" height="8.34" fill="#4166c9"/>
<rect x="143.74" y="122.73" width="8.33" height="8.34" fill="#4166c9"/>
<rect x="152.07" y="122.73" width="8.33" height="8.34" fill="#4166c9"/>
<rect x="160.40" y="122.73" width="8.33" height="8.34" fill="#4166c9"/>
<rect x="168.73" y="122.73" width="8.33" height="8.34" fill="#4166c9"/>
<rect x="177.07" y="122.73" width="8.33" height="8.34" fill="#4166c9"/>
<rect x="185.40" y="122.73" width="8.33" height="8.34" fill="#4166c9"/>
<rect x="193.73" y="122.73" width="8.33" height="8.34" fill="#4166c9"/>
<rect x="202.06" y="122.73" width="8.33" height="8.34" fill="#4166c9"/>
<rect x="210.39" y="122.73" width="8.33" height="8.34" fill="#4166c9"/>
<rect x="218.72" y="122.73" width="8.33" height="8.34" fill="#4166c9"/>
<rect x="227.05" y="122.73" width="8.33" height="8.34" fill="#4166c9"/>
<rect x="235.38" y="122.73" width="8.33" height="8.34" fill="#4166c9"/>
<rect x="243.72" y="122.73" width="8.33" height="8.34" fill="#4166c9"/>
<rect x="252.05" y="122.73" width="8.33" height="8.34" fill="#4166c9"/>
<rect x="260.38" y="122.73" width="8.33" height="8.34" fill="#4166c9"/>
<rect x="268.71" y="122.73" width="8.33" height="8.34" fill="#4166c9"/>
<rect x="277.04" y="122.73" width="8.33" height="8.34" fill="#4166c9"/>
<rect x="285.37" y="122.73" width="8.33" height="8.34" fill="#27d6a6"/>
<rect x="293.70" y="122.73" width="8.33" height="8.34" fill="#27d6a6"/>
<rect x="102.08" y="114.39" width="8.33" height="8.34" fill="#4166c9"/>
<rect x="110.42" y="114.39" width="8.33" height="8.34" fill="#4166c9"/>
<rect x="118.75" y="114.39" width="8.33" height="8.34" fill="#4166c9"/>
<rect x="127.08" y="114.39" width="8.33" height="8.34" fill="#4166c9"/>
<rect x="135.41" y="114.39" width="8.33" height="8.34" fill="#4166c9"/>
<rect x="143.74" y="114.39" width="8.33" height="8.34" fill="#4166c9"/>
<rect x="152.07" y="114.39" width="8.33" height="8.34" fill="#4166c9"/>
<rect x="160.40" y="114.39" width="8.33" height="8.34" fill="#4166c9"/>
<rect x="168.73" y="114.39" width="8.33" height="8.34" fill="#4166c9"/>
<rect x="177.07" y="114.39" width="8.33" height="8.34" fill="#4166c9"/>
<rect x="185.40" y="114.39" width="8.33" height="8.34" fill="#4166c9"/>
<rect x="193.73" y="114.39" width="8.33" height="8.34" fill="#4166c9"/>
<rect x="202.06" y="114.39" width="8.33" height="8.34" fill="#4166c9"/>
<rect x="210.39" y="114.39" width="8.33" height="8.34" fill="#4166c9"/>
<rect x="218.72" y="114.39" width="8.33" height="8.34" fill="#4166c9"/>
<rect x="227.05" y="114.39" width="8.33" height="8.34" fill="#4166c9"/>
<rect x="235.38" y="114.39" width="8.33" height="8.34" fill="#4166c9"/>
<rect x="243.72" y="114.39" width="8.33" height="8.34" fill="#4166c9"/>
<rect x="252.05" y="114.39" width="8.33" height="8.34" fill="#4166c9"/>
<rect x="260.38" y="114.39" width="8.33" height="8.34" fill="#4166c9"/>
<rect x="268.71" y="114.39" width="8.33" height="8.34" fill="#4166c9"/>
<rect x="277.04" y="114.39" width="8.33" height="8.34" fill="#27d6a6"/>
<rect x="285.37" y="114.39" width="8.33" height="8.34" fill="#27d6a6"/>
<rect x="293.70" y="114.39" width="8.33" height="8.34" fill="#27d6a6"/>
<rect x="102.08" y="106.05" width="8.33" height="8.34" fill="#4166c9"/>
<rect x="110.42" y="106.05" width="8.33" height="8.34" fill="#4166c9"/>
<rect x="118.75" y="106.05" width="8.33" height="8.34" fill="#4166c9"/>
<rect x="127.08" y="106.05" width="8.33" height="8.34" fill="#4166c9"/>
<rect x="135.41" y="106.05" width="8.33" height="8.34" fill="#4166c9"/>
<rect x="143.74" y="106.05" width="8.33" height="8.34" fill="#4166c9"/>
<rect x="152.07" y="106.05" width="8.33" height="8.34" fill="#4166c9"/>
<rect x="160.40" y="106.05" width="8.33" height="8.34" fill="#4166c9"/>
<rect x="168.73" y="106.05" width="8.33" height="8.34" fill="#4166c9"/>
<rect x="177.07" y="106.05" width="8.33" height="8.34" fill="#4166c9"/>
<rect x="185.40" y="106.05" width="8.33" height="8.34" fill="#4166c9"/>
<rect x="193.73" y="106.05" width="8.33" height="8.34" fill="#4166c9"/>
<rect x="202.06" y="106.05" width="8.33" height="8.34" fill="#4166c9"/>
<rect x="210.39" y="106.05" width="8.33" height="8.34" fill="#4166c9"/>
<rect x="218.72" y="106.05" width="8.33" height="8.34" fill="#4166c9"/>
<rect x="227.05" y="106.05" width="8.33" height="8.34" fill="#4166c9"/>
<rect x="235.38" y="106.05" width="8.33" height="8.34" fill="#4166c9"/>
<rect x="243.72" y="106.05" width="8.33" height="8.34" fill="#4166c9"/>
<rect x="252.05" y="106.05" width="8.33" height="8.34" fill="#4166c9"/>
<rect x="260.38" y="106.05" width="8.33" height="8.34" fill="#4166c9"/>
<rect x="268.71" y="106.05" width="8.33" height="8.34" fill="#4166c9"/>
<rect x="277.04" y="106.05" width="8.33" height="8.34" fill="#27d6a6"/>
<rect x="285.37" y="106.05" width="8.33" height="8.34" fill="#27d6a6"/>
<rect x="293.70" y="106.05" width="8.33" height="8.34" fill="#27d6a6"/>
<rect x="102.08" y="97.71" width="8.33" height="8.34" fill="#4166c9"/>
<rect x="110.42" y="97.71" width="8.33" height="8.34" fill="#4166c9"/>
<rect x="118.75" y="97.71" width="8.33" height="8.34" fill="#4166c9"/>
<rect x="127.08" y="97.71" width="8.33" height="8.34" fill="#4166c9"/>
<rect x="135.41" y="97.71" width="8.33" height="8.34" fill="#4166c9"/>
<rect x="143.74" y="97.71" width="8.33" height="8.34" fill="#4166c9"/>
<rect x="152.07" y="97.71" width="8.33" height="8.34" fill="#4166c9"/>
<rect x="160.40" y="97.71" width="8.33" height="8.34" fill="#4166c9"/>
<rect x="168.73" y="97.71" width="8.33" height="8.34" fill="#4166c9"/>
<rect x="177.07" y="97.71" width="8.33" height="8.34" fill="#4166c9"/>
<rect x="185.40" y="97.71" width="8.33" height="8.34" fill="#4166c9"/>
<rect x="193.73" y="97.71" width="8.33" height="8.34" fill="#4166c9"/>
<rect x="202.06" y="97.71" width="8.33" height="8.34" fill="#4166c9"/>
<rect x="210.39" y="97.71" width="8.33" height="8.34" fill="#4166c9"/>
<rect x="218.72" y="97.71" width="8.33" height="8.34" fill="#4166c9"/>
<rect x="227.05" y="97.71" width="8.33" height="8.34" fill="#4166c9"/>
<rect x="235.38" y="97.71" width="8.33" height="8.34" fill="#4166c9"/>
<rect x="243.72" y="97.71" width="8.33" height="8.34" fill="#4166c9"/>
<rect x="252.05" y="97.71" width="8.33" height="8.34" fill="#4166c9"/>
<rect x="260.38" y="97.71" width="8.33" height="8.34" fill="#4166c9"/>
<rect x="268.71" y="97.71" width="8.33" height="8.34" fill="#27d6a6"/>
<rect x="277.04" y="97.71" width="8.33" height="8.34" fill="#27d6a6"/>
<rect x="285.37" y="97.71" width="8.33" height="8.34" fill="#27d6a6"/>
<rect x="293.70" y="97.71" width="8.33" height="8.34" fill="#27d6a6"/>
<rect x="102.08" y="89.37" width="8.33" height="8.34" fill="#4166c9"/>
<rect x="110.42" y="89.37" width="8.33" height="8.34" fill="#4166c9"/>
<rect x="118.75" y="89.37" width="8.33" height="8.34" fill="#4166c9"/>
<rect x="127.08" y="89.37" width="8.33" height="8.34" fill="#4166c9"/>
<rect x="135.41" y="89.37" width="8.33" height="8.34" fill="#4166c9"/>
<rect x="143.74" y="89.37" width="8.33" height="8.34" fill="#4166c9"/>
<rect x="152.07" y="89.37" width="8.33" height="8.34" fill="#4166c9"/>
<rect x="160.40" y="89.37" width="8.33" height="8.34" fill="#4166c9"/>
<rect x="168.73" y="89.37" width="8.33" height="8.34" fill="#4166c9"/>
<rect x="177.07" y="89.37" width="8.33" height="8.34" fill="#4166c9"/>
<rect x="185.40" y="89.37" width="8.33" height="8.34" fill="#4166c9"/>
<rect x="193.73" y="89.37" width="8.33" height="8.34" fill="#4166c9"/>
<rect x="202.06" y="89.37" width="8.33" height="8.34" fill="#4166c9"/>
<rect x="210.39" y="89.37" width="8.33" height="8.34" fill="#4166c9"/>
<rect x="218.72" y="89.37" width="8.33" height="8.34" fill="#4166c9"/>
<rect x="227.05" y="89.37" width="8.33" height="8.34" fill="#4166c9"/>
<rect x="235.38" y="89.37" width="8.33" height="8.34" fill="#4166c9"/>
<rect x="243.72" y="89.37" width="8.33" height="8.34" fill="#4166c9"/>
<rect x="252.05" y="89.37" width="8.33" height="8.34" fill="#4166c9"/>
<rect x="260.38" y="89.37" width="8.33" height="8.34" fill="#27d6a6"/>
<rect x="268.71" y="89.37" width="8.33" height="8.34" fill="#27d6a6"/>
<rect x="277.04" y="89.37" width="8.33" height="8.34" fill="#27d6a6"/>
<rect x="285.37" y="89.37" width="8.33" height="8.34" fill="#27d6a6"/>
<rect x="293.70" y="89.37" width="8.33" height="8.34" fill="#27d6a6"/>
<rect x="102.08" y="81.03" width="8.33" height="8.34" fill="#4166c9"/>
<rect x="110.42" y="81.03" width="8.33" height="8.34" fill="#4166c9"/>
<rect x="118.75" y="81.03" width="8.33" height="8.34" fill="#4166c9"/>
<rect x="127.08" y="81.03" width="8.33" height="8.34" fill="#4166c9"/>
<rect x="135.41" y="81.03" width="8.33" height="8.34" fill="#4166c9"/>
<rect x="143.74" y="81.03" width="8.33" height="8.34" fill="#4166c9"/>
<rect x="152.07" y="81.03" width="8.33" height="8.34" fill="#4166c9"/>
<rect x="160.40" y="81.03" width="8.33" height="8.34" fill="#4166c9"/>
<rect x="168.73" y="81.03" width="8.33" height="8.34" fill="#4166c9"/>
<rect x="177.07" y="81.03" width="8.33" height="8.34" fill="#4166c9"/>
<rect x="185.40" y="81.03" width="8.33" height="8.34" fill="#4166c9"/>
<rect x="193.73" y="81.03" width="8.33" height="8.34" fill="#4166c9"/>
<rect x="202.06" y="81.03" width="8.33" height="8.34" fill="#4166c9"/>
<rect x="210.39" y="81.03" width="8.33" height="8.34" fill="#4166c9"/>
<rect x="218.72" y="81.03" width="8.33" height="8.34" fill="#4166c9"/>
<rect x="227.05" y="81.03" width="8.33" height="8.34" fill="#4166c9"/>
<rect x="235.38" y="81.03" width="8.33" height="8.34" fill="#4166c9"/>
<rect x="243.72" y="81.03" width="8.33" height="8.34" fill="#4166c9"/>
<rect x="252.05" y="81.03" width="8.33" height="8.34" fill="#4166c9"/>
<rect x="260.38" y="81.03" width="8.33" height="8.34" fill="#27d6a6"/>
<rect x="268.71" y="81.03" width="8.33" height="8.34" fill="#27d6a6"/>
<rect x="277.04" y="81.03" width="8.33" height="8.34" fill="#27d6a6"/>
<rect x="285.37" y="81.03" width="8.33" height="8.34" fill="#27d6a6"/>
<rect x="293.70" y="81.03" width="8.33" height="8.34" fill="#27d6a6"/>
<rect x="102.08" y="72.70" width="8.33" height="8.34" fill="#4166c9"/>
<rect x="110.42" y="72.70" width="8.33" height="8.34" fill="#4166c9"/>
<rect x="118.75" y="72.70" width="8.33" height="8.34" fill="#4166c9"/>
<rect x="127.08" y="72.70" width="8.33" height="8.34" fill="#4166c9"/>
<rect x="135.41" y="72.70" width="8.33" height="8.34" fill="#4166c9"/>
<rect x="143.74" y="72.70" width="8.33" height="8.34" fill="#4166c9"/>
<rect x="152.07" y="72.70" width="8.33" height="8.34" fill="#4166c9"/>
<rect x="160.40" y="72.70" width="8.33" height="8.34" fill="#4166c9"/>
<rect x="168.73" y="72.70" width="8.33" height="8.34" fill="#4166c9"/>
<rect x="177.07" y="72.70" width="8.33" height="8.34" fill="#4166c9"/>
<rect x="185.40" y="72.70" width="8.33" height="8.34" fill="#4166c9"/>
<rect x="193.73" y="72.70" width="8.33" height="8.34" fill="#4166c9"/>
<rect x="202.06" y="72.70" width="8.33" height="8.34" fill="#4166c9"/>
<rect x="210.39" y="72.70" width="8.33" height="8.34" fill="#4166c9"/>
<rect x="218.72" y="72.70" width="8.33" height="8.34" fill="#4166c9"/>
<rect x="227.05" y="72.70" width="8.33" height="8.34" fill="#4166c9"/>
<rect x="235.38" y="72.70" width="8.33" height="8.34" fill="#4166c9"/>
<rect x="243.72" y="72.70" width="8.33" height="8.34" fill="#4166c9"/>
<rect x="252.05" y="72.70" width="8.33" height="8.34" fill="#27d6a6"/>
<rect x="260.38" y="72.70" width="8.33" height="8.34" fill="#27d6a6"/>
<rect x="268.71" y="72.70" width="8.33" height="8.34" fill="#27d6a6"/>
<rect x="277.04" y="72.70" width="8.33" height="8.34" fill="#27d6a6"/>
<rect x="285.37" y="72.70" width="8.33" height="8.34" fill="#27d6a6"/>
<rect x="293.70" y="72.70" width="8.33" height="8.34" fill="#27d6a6"/>
<rect x="102.08" y="64.36" width="8.33" height="8.34" fill="#4166c9"/>
<rect x="110.42" y="64.36" width="8.33" height="8.34" fill="#4166c9"/>
<rect x="118.75" y="64.36" width="8.33" height="8.34" fill="#4166c9"/>
<rect x="127.08" y="64.36" width="8.33" height="8.34" fill="#4166c9"/>
<rect x="135.41" y="64.36" width="8.33" height="8.34" fill="#4166c9"/>
<rect x="143.74" y="64.36" width="8.33" height="8.34" fill="#4166c9"/>
<rect x="152.07" y="64.36" width="8.33" height="8.34" fill="#4166c9"/>
<rect x="160.40" y="64.36" width="8.33" height="8.34" fill="#4166c9"/>
<rect x="168.73" y="64.36" width="8.33" height="8.34" fill="#4166c9"/>
<rect x="177.07" y="64.36" width="8.33" height="8.34" fill="#4166c9"/>
<rect x="185.40" y="64.36" width="8.33" height="8.34" fill="#4166c9"/>
<rect x="193.73" y="64.36" width="8.33" height="8.34" fill="#4166c9"/>
<rect x="202.06" y="64.36" width="8.33" height="8.34" fill="#4166c9"/>
<rect x="210.39" y="64.36" width="8.33" height="8.34" fill="#4166c9"/>
<rect x="218.72" y="64.36" width="8.33" height="8.34" fill="#4166c9"/>
<rect x="227.05" y="64.36" width="8.33" height="8.34" fill="#4166c9"/>
<rect x="235.38" y="64.36" width="8.33" height="8.34" fill="#27d6a6"/>
<rect x="243.72" y="64.36" width="8.33" height="8.34" fill="#27d6a6"/>
<rect x="252.05" y="64.36" width="8.33" height="8.34" fill="#27d6a6"/>
<rect x="260.38" y="64.36" width="8.33" height="8.34" fill="#27d6a6"/>
<rect x="268.71" y="64.36" width="8.33" height="8.34" fill="#27d6a6"/>
<rect x="277.04" y="64.36" width="8.33" height="8.34" fill="#27d6a6"/>
<rect x="285.37" y="64.36" width="8.33" height="8.34" fill="#27d6a6"/>
<rect x="293.70" y="64.36" width="8.33" height="8.34" fill="#27d6a6"/>
<rect x="102.08" y="56.02" width="8.33" height="8.34" fill="#4166c9"/>
<rect x="110.42" y="56.02" width="8.33" height="8.34" fill="#4166c9"/>
<rect x="118.75" y="56.02" width="8.33" height="8.34" fill="#4166c9"/>
<rect x="127.08" y="56.02" width="8.33" height="8.34" fill="#4166c9"/>
<rect x="135.41" y="56.02" width="8.33" height="8.34" fill="#4166c9"/>
<rect x="143.74" y="56.02" width="8.33" height="8.34" fill="#4166c9"/>
<rect x="152.07" y="56.02" width="8.33" height="8.34" fill="#4166c9"/>
<rect x="160.40" y="56.02" width="8.33" height="8.34" fill="#4166c9"/>
<rect x="168.73" y="56.02" width="8.33" height="8.34" fill="#4166c9"/>
<rect x="177.07" y="56.02" width="8.33" height="8.34" fill="#4166c9"/>
<rect x="185.40" y="56.02" width="8.33" height="8.34" fill="#4166c9"/>
<rect x="193.73" y="56.02" width="8.33" height="8.34" fill="#4166c9"/>
<rect x="202.06" y="56.02" width="8.33" height="8.34" fill="#4166c9"/>
<rect x="210.39" y="56.02" width="8.33" height="8.34" fill="#4166c9"/>
<rect x="218.72" y="56.02" width="8.33" height="8.34" fill="#4166c9"/>
<rect x="227.05" y="56.02" width="8.33" height="8.34" fill="#27d6a6"/>
<rect x="235.38" y="56.02" width="8.33" height="8.34" fill="#27d6a6"/>
<rect x="243.72" y="56.02" width="8.33" height="8.34" fill="#27d6a6"/>
<rect x="252.05" y="56.02" width="8.33" height="8.34" fill="#27d6a6"/>
<rect x="260.38" y="56.02" width="8.33" height="8.34" fill="#27d6a6"/>
<rect x="268.71" y="56.02" width="8.33" height="8.34" fill="#27d6a6"/>
<rect x="277.04" y="56.02" width="8.33" height="8.34" fill="#27d6a6"/>
<rect x="285.37" y="56.02" width="8.33" height="8.34" fill="#27d6a6"/>
<rect x="293.70" y="56.02" width="8.33" height="8.34" fill="#27d6a6"/>
</g>
<path clip-path="url(#cp0)" fill="#fff" fill-opacity="0.8" d="M110.12 55.72h.6v.6h-.6zM118.45 55.72h.6v.6h-.6zM126.78 55.72h.6v.6h-.6zM135.11 55.72h.6v.6h-.6zM143.44 55.72h.6v.6h-.6zM151.77 55.72h.6v.6h-.6zM160.10 55.72h.6v.6h-.6zM168.43 55.72h.6v.6h-.6zM176.77 55.72h.6v.6h-.6zM185.10 55.72h.6v.6h-.6zM193.43 55.72h.6v.6h-.6zM201.76 55.72h.6v.6h-.6zM210.09 55.72h.6v.6h-.6zM218.42 55.72h.6v.6h-.6zM226.75 55.72h.6v.6h-.6zM235.08 55.72h.6v.6h-.6zM243.42 55.72h.6v.6h-.6zM251.75 55.72h.6v.6h-.6zM260.08 55.72h.6v.6h-.6zM268.41 55.72h.6v.6h-.6zM276.74 55.72h.6v.6h-.6zM285.07 55.72h.6v.6h-.6zM293.40 55.72h.6v.6h-.6zM301.73 55.72h.6v.6h-.6zM110.12 64.06h.6v.6h-.6zM118.45 64.06h.6v.6h-.6zM126.78 64.06h.6v.6h-.6zM135.11 64.06h.6v.6h-.6zM143.44 64.06h.6v.6h-.6zM151.77 64.06h.6v.6h-.6zM160.10 64.06h.6v.6h-.6zM168.43 64.06h.6v.6h-.6zM176.77 64.06h.6v.6h-.6zM185.10 64.06h.6v.6h-.6zM193.43 64.06h.6v.6h-.6zM201.76 64.06h.6v.6h-.6zM210.09 64.06h.6v.6h-.6zM218.42 64.06h.6v.6h-.6zM226.75 64.06h.6v.6h-.6zM235.08 64.06h.6v.6h-.6zM243.42 64.06h.6v.6h-.6zM251.75 64.06h.6v.6h-.6zM260.08 64.06h.6v.6h-.6zM268.41 64.06h.6v.6h-.6zM276.74 64.06h.6v.6h-.6zM285.07 64.06h.6v.6h-.6zM293.40 64.06h.6v.6h-.6zM301.73 64.06h.6v.6h-.6zM110.12 72.40h.6v.6h-.6zM118.45 72.40h.6v.6h-.6zM126.78 72.40h.6v.6h-.6zM135.11 72.40h.6v.6h-.6zM143.44 72.40h.6v.6h-.6zM151.77 72.40h.6v.6h-.6zM160.10 72.40h.6v.6h-.6zM168.43 72.40h.6v.6h-.6zM176.77 72.40h.6v.6h-.6zM185.10 72.40h.6v.6h-.6zM193.43 72.40h.6v.6h-.6zM201.76 72.40h.6v.6h-.6zM210.09 72.40h.6v.6h-.6zM218.42 72.40h.6v.6h-.6zM226.75 72.40h.6v.6h-.6zM235.08 72.40h.6v.6h-.6zM243.42 72.40h.6v.6h-.6zM251.75 72.40h.6v.6h-.6zM260.08 72.40h.6v.6h-.6zM268.41 72.40h.6v.6h-.6zM276.74 72.40h.6v.6h-.6zM285.07 72.40h.6v.6h-.6zM293.40 72.40h.6v.6h-.6zM301.73 72.40h.6v.6h-.6zM110.12 80.73h.6v.6h-.6zM118.45 80.73h.6v.6h-.6zM126.78 80.73h.6v.6h-.6zM135.11 80.73h.6v.6h-.6zM143.44 80.73h.6v.6h-.6zM151.77 80.73h.6v.6h-.6zM160.10 80.73h.6v.6h-.6zM168.43 80.73h.6v.6h-.6zM176.77 80.73h.6v.6h-.6zM185.10 80.73h.6v.6h-.6zM193.43 80.73h.6v.6h-.6zM201.76 80.73h.6v.6h-.6zM210.09 80.73h.6v.6h-.6zM218.42 80.73h.6v.6h-.6zM226.75 80.73h.6v.6h-.6zM235.08 80.73h.6v.6h-.6zM243.42 80.73h.6v.6h-.6zM251.75 80.73h.6v.6h-.6zM260.08 80.73h.6v.6h-.6zM268.41 80.73h.6v.6h-.6zM276.74 80.73h.6v.6h-.6zM285.07 80.73h.6v.6h-.6zM293.40 80.73h.6v.6h-.6zM301.73 80.73h.6v.6h-.6zM110.12 89.07h.6v.6h-.6zM118.45 89.07h.6v.6h-.6zM126.78 89.07h.6v.6h-.6zM135.11 89.07h.6v.6h-.6zM143.44 89.07h.6v.6h-.6zM151.77 89.07h.6v.6h-.6zM160.10 89.07h.6v.6h-.6zM168.43 89.07h.6v.6h-.6zM176.77 89.07h.6v.6h-.6zM185.10 89.07h.6v.6h-.6zM193.43 89.07h.6v.6h-.6zM201.76 89.07h.6v.6h-.6zM210.09 89.07h.6v.6h-.6zM218.42 89.07h.6v.6h-.6zM226.75 89.07h.6v.6h-.6zM235.08 89.07h.6v.6h-.6zM243.42 89.07h.6v.6h-.6zM251.75 89.07h.6v.6h-.6zM260.08 89.07h.6v.6h-.6zM268.41 89.07h.6v.6h-.6zM276.74 89.07h.6v.6h-.6zM285.07 89.07h.6v.6h-.6zM293.40 89.07h.6v.6h-.6zM301.73 89.07h.6v.6h-.6zM110.12 97.41h.6v.6h-.6zM118.45 97.41h.6v.6h-.6zM126.78 97.41h.6v.6h-.6zM135.11 97.41h.6v.6h-.6zM143.44 97.41h.6v.6h-.6zM151.77 97.41h.6v.6h-.6zM160.10 97.41h.6v.6h-.6zM168.43 97.41h.6v.6h-.6zM176.77 97.41h.6v.6h-.6zM185.10 97.41h.6v.6h-.6zM193.43 97.41h.6v.6h-.6zM201.76 97.41h.6v.6h-.6zM210.09 97.41h.6v.6h-.6zM218.42 97.41h.6v.6h-.6zM226.75 97.41h.6v.6h-.6zM235.08 97.41h.6v.6h-.6zM243.42 97.41h.6v.6h-.6zM251.75 97.41h.6v.6h-.6zM260.08 97.41h.6v.6h-.6zM268.41 97.41h.6v.6h-.6zM276.74 97.41h.6v.6h-.6zM285.07 97.41h.6v.6h-.6zM293.40 97.41h.6v.6h-.6zM301.73 97.41h.6v.6h-.6zM110.12 105.75h.6v.6h-.6zM118.45 105.75h.6v.6h-.6zM126.78 105.75h.6v.6h-.6zM135.11 105.75h.6v.6h-.6zM143.44 105.75h.6v.6h-.6zM151.77 105.75h.6v.6h-.6zM160.10 105.75h.6v.6h-.6zM168.43 105.75h.6v.6h-.6zM176.77 105.75h.6v.6h-.6zM185.10 105.75h.6v.6h-.6zM193.43 105.75h.6v.6h-.6zM201.76 105.75h.6v.6h-.6zM210.09 105.75h.6v.6h-.6zM218.42 105.75h.6v.6h-.6zM226.75 105.75h.6v.6h-.6zM235.08 105.75h.6v.6h-.6zM243.42 105.75h.6v.6h-.6zM251.75 105.75h.6v.6h-.6zM260.08 105.75h.6v.6h-.6zM268.41 105.75h.6v.6h-.6zM276.74 105.75h.6v.6h-.6zM285.07 105.75h.6v.6h-.6zM293.40 105.75h.6v.6h-.6zM301.73 105.75h.6v.6h-.6zM110.12 114.09h.6v.6h-.6zM118.45 114.09h.6v.6h-.6zM126.78 114.09h.6v.6h-.6zM135.11 114.09h.6v.6h-.6zM143.44 114.09h.6v.6h-.6zM151.77 114.09h.6v.6h-.6zM160.10 114.09h.6v.6h-.6zM168.43 114.09h.6v.6h-.6zM176.77 114.09h.6v.6h-.6zM185.10 114.09h.6v.6h-.6zM193.43 114.09h.6v.6h-.6zM201.76 114.09h.6v.6h-.6zM210.09 114.09h.6v.6h-.6zM218.42 114.09h.6v.6h-.6zM226.75 114.09h.6v.6h-.6zM235.08 114.09h.6v.6h-.6zM243.42 114.09h.6v.6h-.6zM251.75 114.09h.6v.6h-.6zM260.08 114.09h.6v.6h-.6zM268.41 114.09h.6v.6h-.6zM276.74 114.09h.6v.6h-.6zM285.07 114.09h.6v.6h-.6zM293.40 114.09h.6v.6h-.6zM301.73 114.09h.6v.6h-.6zM110.12 122.43h.6v.6h-.6zM118.45 122.43h.6v.6h-.6zM126.78 122.43h.6v.6h-.6zM135.11 122.43h.6v.6h-.6zM143.44 122.43h.6v.6h-.6zM151.77 122.43h.6v.6h-.6zM160.10 122.43h.6v.6h-.6zM168.43 122.43h.6v.6h-.6zM176.77 122.43h.6v.6h-.6zM185.10 122.43h.6v.6h-.6zM193.43 122.43h.6v.6h-.6zM201.76 122.43h.6v.6h-.6zM210.09 122.43h.6v.6h-.6zM218.42 122.43h.6v.6h-.6zM226.75 122.43h.6v.6h-.6zM235.08 122.43h.6v.6h-.6zM243.42 122.43h.6v.6h-.6zM251.75 122.43h.6v.6h-.6zM260.08 122.43h.6v.6h-.6zM268.41 122.43h.6v.6h-.6zM276.74 122.43h.6v.6h-.6zM285.07 122.43h.6v.6h-.6zM293.40 122.43h.6v.6h-.6zM301.73 122.43h.6v.6h-.6zM110.12 130.76h.6v.6h-.6zM118.45 130.76h.6v.6h-.6zM126.78 130.76h.6v.6h-.6zM135.11 130.76h.6v.6h-.6zM143.44 130.76h.6v.6h-.6zM151.77 130.76h.6v.6h-.6zM160.10 130.76h.6v.6h-.6zM168.43 130.76h.6v.6h-.6zM176.77 130.76h.6v.6h-.6zM185.10 130.76h.6v.6h-.6zM193.43 130.76h.6v.6h-.6zM201.76 130.76h.6v.6h-.6zM210.09 130.76h.6v.6h-.6zM218.42 130.76h.6v.6h-.6zM226.75 130.76h.6v.6h-.6zM235.08 130.76h.6v.6h-.6zM243.42 130.76h.6v.6h-.6zM251.75 130.76h.6v.6h-.6zM260.08 130.76h.6v.6h-.6zM268.41 130.76h.6v.6h-.6zM276.74 130.76h.6v.6h-.6zM285.07 130.76h.6v.6h-.6zM293.40 130.76h.6v.6h-.6zM301.73 130.76h.6v.6h-.6zM110.12 139.10h.6v.6h-.6zM118.45 139.10h.6v.6h-.6zM126.78 139.10h.6v.6h-.6zM135.11 139.10h.6v.6h-.6zM143.44 139.10h.6v.6h-.6zM151.77 139.10h.6v.6h-.6zM160.10 139.10h.6v.6h-.6zM168.43 139.10h.6v.6h-.6zM176.77 139.10h.6v.6h-.6zM185.10 139.10h.6v.6h-.6zM193.43 139.10h.6v.6h-.6zM201.76 139.10h.6v.6h-.6zM210.09 139.10h.6v.6h-.6zM218.42 139.10h.6v.6h-.6zM226.75 139.10h.6v.6h-.6zM235.08 139.10h.6v.6h-.6zM243.42 139.10h.6v.6h-.6zM251.75 139.10h.6v.6h-.6zM260.08 139.10h.6v.6h-.6zM268.41 139.10h.6v.6h-.6zM276.74 139.10h.6v.6h-.6zM285.07 139.10h.6v.6h-.6zM293.40 139.10h.6v.6h-.6zM301.73 139.10h.6v.6h-.6zM110.12 147.44h.6v.6h-.6zM118.45 147.44h.6v.6h-.6zM126.78 147.44h.6v.6h-.6zM135.11 147.44h.6v.6h-.6zM143.44 147.44h.6v.6h-.6zM151.77 147.44h.6v.6h-.6zM160.10 147.44h.6v.6h-.6zM168.43 147.44h.6v.6h-.6zM176.77 147.44h.6v.6h-.6zM185.10 147.44h.6v.6h-.6zM193.43 147.44h.6v.6h-.6zM201.76 147.44h.6v.6h-.6zM210.09 147.44h.6v.6h-.6zM218.42 147.44h.6v.6h-.6zM226.75 147.44h.6v.6h-.6zM235.08 147.44h.6v.6h-.6zM243.42 147.44h.6v.6h-.6zM251.75 147.44h.6v.6h-.6zM260.08 147.44h.6v.6h-.6zM268.41 147.44h.6v.6h-.6zM276.74 147.44h.6v.6h-.6zM285.07 147.44h.6v.6h-.6zM293.40 147.44h.6v.6h-.6zM301.73 147.44h.6v.6h-.6zM110.12 155.78h.6v.6h-.6zM118.45 155.78h.6v.6h-.6zM126.78 155.78h.6v.6h-.6zM135.11 155.78h.6v.6h-.6zM143.44 155.78h.6v.6h-.6zM151.77 155.78h.6v.6h-.6zM160.10 155.78h.6v.6h-.6zM168.43 155.78h.6v.6h-.6zM176.77 155.78h.6v.6h-.6zM185.10 155.78h.6v.6h-.6zM193.43 155.78h.6v.6h-.6zM201.76 155.78h.6v.6h-.6zM210.09 155.78h.6v.6h-.6zM218.42 155.78h.6v.6h-.6zM226.75 155.78h.6v.6h-.6zM235.08 155.78h.6v.6h-.6zM243.42 155.78h.6v.6h-.6zM251.75 155.78h.6v.6h-.6zM260.08 155.78h.6v.6h-.6zM268.41 155.78h.6v.6h-.6zM276.74 155.78h.6v.6h-.6zM285.07 155.78h.6v.6h-.6zM293.40 155.78h.6v.6h-.6zM301.73 155.78h.6v.6h-.6zM110.12 164.12h.6v.6h-.6zM118.45 164.12h.6v.6h-.6zM126.78 164.12h.6v.6h-.6zM135.11 164.12h.6v.6h-.6zM143.44 164.12h.6v.6h-.6zM151.77 164.12h.6v.6h-.6zM160.10 164.12h.6v.6h-.6zM168.43 164.12h.6v.6h-.6zM176.77 164.12h.6v.6h-.6zM185.10 164.12h.6v.6h-.6zM193.43 164.12h.6v.6h-.6zM201.76 164.12h.6v.6h-.6zM210.09 164.12h.6v.6h-.6zM218.42 164.12h.6v.6h-.6zM226.75 164.12h.6v.6h-.6zM235.08 164.12h.6v.6h-.6zM243.42 164.12h.6v.6h-.6zM251.75 164.12h.6v.6h-.6zM260.08 164.12h.6v.6h-.6zM268.41 164.12h.6v.6h-.6zM276.74 164.12h.6v.6h-.6zM285.07 164.12h.6v.6h-.6zM293.40 164.12h.6v.6h-.6zM301.73 164.12h.6v.6h-.6zM110.12 172.46h.6v.6h-.6zM118.45 172.46h.6v.6h-.6zM126.78 172.46h.6v.6h-.6zM135.11 172.46h.6v.6h-.6zM143.44 172.46h.6v.6h-.6zM151.77 172.46h.6v.6h-.6zM160.10 172.46h.6v.6h-.6zM168.43 172.46h.6v.6h-.6zM176.77 172.46h.6v.6h-.6zM185.10 172.46h.6v.6h-.6zM193.43 172.46h.6v.6h-.6zM201.76 172.46h.6v.6h-.6zM210.09 172.46h.6v.6h-.6zM218.42 172.46h.6v.6h-.6zM226.75 172.46h.6v.6h-.6zM235.08 172.46h.6v.6h-.6zM243.42 172.46h.6v.6h-.6zM251.75 172.46h.6v.6h-.6zM260.08 172.46h.6v.6h-.6zM268.41 172.46h.6v.6h-.6zM276.74 172.46h.6v.6h-.6zM285.07 172.46h.6v.6h-.6zM293.40 172.46h.6v.6h-.6zM301.73 172.46h.6v.6h-.6zM110.12 180.79h.6v.6h-.6zM118.45 180.79h.6v.6h-.6zM126.78 180.79h.6v.6h-.6zM135.11 180.79h.6v.6h-.6zM143.44 180.79h.6v.6h-.6zM151.77 180.79h.6v.6h-.6zM160.10 180.79h.6v.6h-.6zM168.43 180.79h.6v.6h-.6zM176.77 180.79h.6v.6h-.6zM185.10 180.79h.6v.6h-.6zM193.43 180.79h.6v.6h-.6zM201.76 180.79h.6v.6h-.6zM210.09 180.79h.6v.6h-.6zM218.42 180.79h.6v.6h-.6zM226.75 180.79h.6v.6h-.6zM235.08 180.79h.6v.6h-.6zM243.42 180.79h.6v.6h-.6zM251.75 180.79h.6v.6h-.6zM260.08 180.79h.6v.6h-.6zM268.41 180.79h.6v.6h-.6zM276.74 180.79h.6v.6h-.6zM285.07 180.79h.6v.6h-.6zM293.40 180.79h.6v.6h-.6zM301.73 180.79h.6v.6h-.6zM110.12 189.13h.6v.6h-.6zM118.45 189.13h.6v.6h-.6zM126.78 189.13h.6v.6h-.6zM135.11 189.13h.6v.6h-.6zM143.44 189.13h.6v.6h-.6zM151.77 189.13h.6v.6h-.6zM160.10 189.13h.6v.6h-.6zM168.43 189.13h.6v.6h-.6zM176.77 189.13h.6v.6h-.6zM185.10 189.13h.6v.6h-.6zM193.43 189.13h.6v.6h-.6zM201.76 189.13h.6v.6h-.6zM210.09 189.13h.6v.6h-.6zM218.42 189.13h.6v.6h-.6zM226.75 189.13h.6v.6h-.6zM235.08 189.13h.6v.6h-.6zM243.42 189.13h.6v.6h-.6zM251.75 189.13h.6v.6h-.6zM260.08 189.13h.6v.6h-.6zM268.41 189.13h.6v.6h-.6zM276.74 189.13h.6v.6h-.6zM285.07 189.13h.6v.6h-.6zM293.40 189.13h.6v.6h-.6zM301.73 189.13h.6v.6h-.6zM110.12 197.47h.6v.6h-.6zM118.45 197.47h.6v.6h-.6zM126.78 197.47h.6v.6h-.6zM135.11 197.47h.6v.6h-.6zM143.44 197.47h.6v.6h-.6zM151.77 197.47h.6v.6h-.6zM160.10 197.47h.6v.6h-.6zM168.43 197.47h.6v.6h-.6zM176.77 197.47h.6v.6h-.6zM185.10 197.47h.6v.6h-.6zM193.43 197.47h.6v.6h-.6zM201.76 197.47h.6v.6h-.6zM210.09 197.47h.6v.6h-.6zM218.42 197.47h.6v.6h-.6zM226.75 197.47h.6v.6h-.6zM235.08 197.47h.6v.6h-.6zM243.42 197.47h.6v.6h-.6zM251.75 197.47h.6v.6h-.6zM260.08 197.47h.6v.6h-.6zM268.41 197.47h.6v.6h-.6zM276.74 197.47h.6v.6h-.6zM285.07 197.47h.6v.6h-.6zM293.40 197.47h.6v.6h-.6zM301.73 197.47h.6v.6h-.6zM110.12 205.81h.6v.6h-.6zM118.45 205.81h.6v.6h-.6zM126.78 205.81h.6v.6h-.6zM135.11 205.81h.6v.6h-.6zM143.44 205.81h.6v.6h-.6zM151.77 205.81h.6v.6h-.6zM160.10 205.81h.6v.6h-.6zM168.43 205.81h.6v.6h-.6zM176.77 205.81h.6v.6h-.6zM185.10 205.81h.6v.6h-.6zM193.43 205.81h.6v.6h-.6zM201.76 205.81h.6v.6h-.6zM210.09 205.81h.6v.6h-.6zM218.42 205.81h.6v.6h-.6zM226.75 205.81h.6v.6h-.6zM235.08 205.81h.6v.6h-.6zM243.42 205.81h.6v.6h-.6zM251.75 205.81h.6v.6h-.6zM260.08 205.81h.6v.6h-.6zM268.41 205.81h.6v.6h-.6zM276.74 205.81h.6v.6h-.6zM285.07 205.81h.6v.6h-.6zM293.40 205.81h.6v.6h-.6zM301.73 205.81h.6v.6h-.6zM110.12 214.15h.6v.6h-.6zM118.45 214.15h.6v.6h-.6zM126.78 214.15h.6v.6h-.6zM135.11 214.15h.6v.6h-.6zM143.44 214.15h.6v.6h-.6zM151.77 214.15h.6v.6h-.6zM160.10 214.15h.6v.6h-.6zM168.43 214.15h.6v.6h-.6zM176.77 214.15h.6v.6h-.6zM185.10 214.15h.6v.6h-.6zM193.43 214.15h.6v.6h-.6zM201.76 214.15h.6v.6h-.6zM210.09 214.15h.6v.6h-.6zM218.42 214.15h.6v.6h-.6zM226.75 214.15h.6v.6h-.6zM235.08 214.15h.6v.6h-.6zM243.42 214.15h.6v.6h-.6zM251.75 214.15h.6v.6h-.6zM260.08 214.15h.6v.6h-.6zM268.41 214.15h.6v.6h-.6zM276.74 214.15h.6v.6h-.6zM285.07 214.15h.6v.6h-.6zM293.40 214.15h.6v.6h-.6zM301.73 214.15h.6v.6h-.6zM110.12 222.49h.6v.6h-.6zM118.45 222.49h.6v.6h-.6zM126.78 222.49h.6v.6h-.6zM135.11 222.49h.6v.6h-.6zM143.44 222.49h.6v.6h-.6zM151.77 222.49h.6v.6h-.6zM160.10 222.49h.6v.6h-.6zM168.43 222.49h.6v.6h-.6zM176.77 222.49h.6v.6h-.6zM185.10 222.49h.6v.6h-.6zM193.43 222.49h.6v.6h-.6zM201.76 222.49h.6v.6h-.6zM210.09 222.49h.6v.6h-.6zM218.42 222.49h.6v.6h-.6zM226.75 222.49h.6v.6h-.6zM235.08 222.49h.6v.6h-.6zM243.42 222.49h.6v.6h-.6zM251.75 222.49h.6v.6h-.6zM260.08 222.49h.6v.6h-.6zM268.41 222.49h.6v.6h-.6zM276.74 222.49h.6v.6h-.6zM285.07 222.49h.6v.6h-.6zM293.40 222.49h.6v.6h-.6zM301.73 222.49h.6v.6h-.6zM110.12 230.82h.6v.6h-.6zM118.45 230.82h.6v.6h-.6zM126.78 230.82h.6v.6h-.6zM135.11 230.82h.6v.6h-.6zM143.44 230.82h.6v.6h-.6zM151.77 230.82h.6v.6h-.6zM160.10 230.82h.6v.6h-.6zM168.43 230.82h.6v.6h-.6zM176.77 230.82h.6v.6h-.6zM185.10 230.82h.6v.6h-.6zM193.43 230.82h.6v.6h-.6zM201.76 230.82h.6v.6h-.6zM210.09 230.82h.6v.6h-.6zM218.42 230.82h.6v.6h-.6zM226.75 230.82h.6v.6h-.6zM235.08 230.82h.6v.6h-.6zM243.42 230.82h.6v.6h-.6zM251.75 230.82h.6v.6h-.6zM260.08 230.82h.6v.6h-.6zM268.41 230.82h.6v.6h-.6zM276.74 230.82h.6v.6h-.6zM285.07 230.82h.6v.6h-.6zM293.40 230.82h.6v.6h-.6zM301.73 230.82h.6v.6h-.6zM110.12 239.16h.6v.6h-.6zM118.45 239.16h.6v.6h-.6zM126.78 239.16h.6v.6h-.6zM135.11 239.16h.6v.6h-.6zM143.44 239.16h.6v.6h-.6zM151.77 239.16h.6v.6h-.6zM160.10 239.16h.6v.6h-.6zM168.43 239.16h.6v.6h-.6zM176.77 239.16h.6v.6h-.6zM185.10 239.16h.6v.6h-.6zM193.43 239.16h.6v.6h-.6zM201.76 239.16h.6v.6h-.6zM210.09 239.16h.6v.6h-.6zM218.42 239.16h.6v.6h-.6zM226.75 239.16h.6v.6h-.6zM235.08 239.16h.6v.6h-.6zM243.42 239.16h.6v.6h-.6zM251.75 239.16h.6v.6h-.6zM260.08 239.16h.6v.6h-.6zM268.41 239.16h.6v.6h-.6zM276.74 239.16h.6v.6h-.6zM285.07 239.16h.6v.6h-.6zM293.40 239.16h.6v.6h-.6zM301.73 239.16h.6v.6h-.6zM110.12 247.50h.6v.6h-.6zM118.45 247.50h.6v.6h-.6zM126.78 247.50h.6v.6h-.6zM135.11 247.50h.6v.6h-.6zM143.44 247.50h.6v.6h-.6zM151.77 247.50h.6v.6h-.6zM160.10 247.50h.6v.6h-.6zM168.43 247.50h.6v.6h-.6zM176.77 247.50h.6v.6h-.6zM185.10 247.50h.6v.6h-.6zM193.43 247.50h.6v.6h-.6zM201.76 247.50h.6v.6h-.6zM210.09 247.50h.6v.6h-.6zM218.42 247.50h.6v.6h-.6zM226.75 247.50h.6v.6h-.6zM235.08 247.50h.6v.6h-.6zM243.42 247.50h.6v.6h-.6zM251.75 247.50h.6v.6h-.6zM260.08 247.50h.6v.6h-.6zM268.41 247.50h.6v.6h-.6zM276.74 247.50h.6v.6h-.6zM285.07 247.50h.6v.6h-.6zM293.40 247.50h.6v.6h-.6zM301.73 247.50h.6v.6h-.6zM110.12 255.84h.6v.6h-.6zM118.45 255.84h.6v.6h-.6zM126.78 255.84h.6v.6h-.6zM135.11 255.84h.6v.6h-.6zM143.44 255.84h.6v.6h-.6zM151.77 255.84h.6v.6h-.6zM160.10 255.84h.6v.6h-.6zM168.43 255.84h.6v.6h-.6zM176.77 255.84h.6v.6h-.6zM185.10 255.84h.6v.6h-.6zM193.43 255.84h.6v.6h-.6zM201.76 255.84h.6v.6h-.6zM210.09 255.84h.6v.6h-.6zM218.42 255.84h.6v.6h-.6zM226.75 255.84h.6v.6h-.6zM235.08 255.84h.6v.6h-.6zM243.42 255.84h.6v.6h-.6zM251.75 255.84h.6v.6h-.6zM260.08 255.84h.6v.6h-.6zM268.41 255.84h.6v.6h-.6zM276.74 255.84h.6v.6h-.6zM285.07 255.84h.6v.6h-.6zM293.40 255.84h.6v.6h-.6zM301.73 255.84h.6v.6h-.6zM110.12 264.18h.6v.6h-.6zM118.45 264.18h.6v.6h-.6zM126.78 264.18h.6v.6h-.6zM135.11 264.18h.6v.6h-.6zM143.44 264.18h.6v.6h-.6zM151.77 264.18h.6v.6h-.6zM160.10 264.18h.6v.6h-.6zM168.43 264.18h.6v.6h-.6zM176.77 264.18h.6v.6h-.6zM185.10 264.18h.6v.6h-.6zM193.43 264.18h.6v.6h-.6zM201.76 264.18h.6v.6h-.6zM210.09 264.18h.6v.6h-.6zM218.42 264.18h.6v.6h-.6zM226.75 264.18h.6v.6h-.6zM235.08 264.18h.6v.6h-.6zM243.42 264.18h.6v.6h-.6zM251.75 264.18h.6v.6h-.6zM260.08 264.18h.6v.6h-.6zM268.41 264.18h.6v.6h-.6zM276.74 264.18h.6v.6h-.6zM285.07 264.18h.6v.6h-.6zM293.40 264.18h.6v.6h-.6zM301.73 264.18h.6v.6h-.6zM110.12 272.52h.6v.6h-.6zM118.45 272.52h.6v.6h-.6zM126.78 272.52h.6v.6h-.6zM135.11 272.52h.6v.6h-.6zM143.44 272.52h.6v.6h-.6zM151.77 272.52h.6v.6h-.6zM160.10 272.52h.6v.6h-.6zM168.43 272.52h.6v.6h-.6zM176.77 272.52h.6v.6h-.6zM185.10 272.52h.6v.6h-.6zM193.43 272.52h.6v.6h-.6zM201.76 272.52h.6v.6h-.6zM210.09 272.52h.6v.6h-.6zM218.42 272.52h.6v.6h-.6zM226.75 272.52h.6v.6h-.6zM235.08 272.52h.6v.6h-.6zM243.42 272.52h.6v.6h-.6zM251.75 272.52h.6v.6h-.6zM260.08 272.52h.6v.6h-.6zM268.41 272.52h.6v.6h-.6zM276.74 272.52h.6v.6h-.6zM285.07 272.52h.6v.6h-.6zM293.40 272.52h.6v.6h-.6zM301.73 272.52h.6v.6h-.6zM110.12 280.85h.6v.6h-.6zM118.45 280.85h.6v.6h-.6zM126.78 280.85h.6v.6h-.6zM135.11 280.85h.6v.6h-.6zM143.44 280.85h.6v.6h-.6zM151.77 280.85h.6v.6h-.6zM160.10 280.85h.6v.6h-.6zM168.43 280.85h.6v.6h-.6zM176.77 280.85h.6v.6h-.6zM185.10 280.85h.6v.6h-.6zM193.43 280.85h.6v.6h-.6zM201.76 280.85h.6v.6h-.6zM210.09 280.85h.6v.6h-.6zM218.42 280.85h.6v.6h-.6zM226.75 280.85h.6v.6h-.6zM235.08 280.85h.6v.6h-.6zM243.42 280.85h.6v.6h-.6zM251.75 280.85h.6v.6h-.6zM260.08 280.85h.6v.6h-.6zM268.41 280.85h.6v.6h-.6zM276.74 280.85h.6v.6h-.6zM285.07 280.85h.6v.6h-.6zM293.40 280.85h.6v.6h-.6zM301.73 280.85h.6v.6h-.6zM110.12 289.19h.6v.6h-.6zM118.45 289.19h.6v.6h-.6zM126.78 289.19h.6v.6h-.6zM135.11 289.19h.6v.6h-.6zM143.44 289.19h.6v.6h-.6zM151.77 289.19h.6v.6h-.6zM160.10 289.19h.6v.6h-.6zM168.43 289.19h.6v.6h-.6zM176.77 289.19h.6v.6h-.6zM185.10 289.19h.6v.6h-.6zM193.43 289.19h.6v.6h-.6zM201.76 289.19h.6v.6h-.6zM210.09 289.19h.6v.6h-.6zM218.42 289.19h.6v.6h-.6zM226.75 289.19h.6v.6h-.6zM235.08 289.19h.6v.6h-.6zM243.42 289.19h.6v.6h-.6zM251.75 289.19h.6v.6h-.6zM260.08 289.19h.6v.6h-.6zM268.41 289.19h.6v.6h-.6zM276.74 289.19h.6v.6h-.6zM285.07 289.19h.6v.6h-.6zM293.40 289.19h.6v.6h-.6zM301.73 289.19h.6v.6h-.6zM110.12 297.53h.6v.6h-.6zM118.45 297.53h.6v.6h-.6zM126.78 297.53h.6v.6h-.6zM135.11 297.53h.6v.6h-.6zM143.44 297.53h.6v.6h-.6zM151.77 297.53h.6v.6h-.6zM160.10 297.53h.6v.6h-.6zM168.43 297.53h.6v.6h-.6zM176.77 297.53h.6v.6h-.6zM185.10 297.53h.6v.6h-.6zM193.43 297.53h.6v.6h-.6zM201.76 297.53h.6v.6h-.6zM210.09 297.53h.6v.6h-.6zM218.42 297.53h.6v.6h-.6zM226.75 297.53h.6v.6h-.6zM235.08 297.53h.6v.6h-.6zM243.42 297.53h.6v.6h-.6zM251.75 297.53h.6v.6h-.6zM260.08 297.53h.6v.6h-.6zM268.41 297.53h.6v.6h-.6zM276.74 297.53h.6v.6h-.6zM285.07 297.53h.6v.6h-.6zM293.40 297.53h.6v.6h-.6zM301.73 297.53h.6v.6h-.6zM110.12 305.87h.6v.6h-.6zM118.45 305.87h.6v.6h-.6zM126.78 305.87h.6v.6h-.6zM135.11 305.87h.6v.6h-.6zM143.44 305.87h.6v.6h-.6zM151.77 305.87h.6v.6h-.6zM160.10 305.87h.6v.6h-.6zM168.43 305.87h.6v.6h-.6zM176.77 305.87h.6v.6h-.6zM185.10 305.87h.6v.6h-.6zM193.43 305.87h.6v.6h-.6zM201.76 305.87h.6v.6h-.6zM210.09 305.87h.6v.6h-.6zM218.42 305.87h.6v.6h-.6zM226.75 305.87h.6v.6h-.6zM235.08 305.87h.6v.6h-.6zM243.42 305.87h.6v.6h-.6zM251.75 305.87h.6v.6h-.6zM260.08 305.87h.6v.6h-.6zM268.41 305.87h.6v.6h-.6zM276.74 305.87h.6v.6h-.6zM285.07 305.87h.6v.6h-.6zM293.40 305.87h.6v.6h-.6zM301.73 305.87h.6v.6h-.6z"/>
<g clip-path="url(#cp1)" stroke="#fff" stroke-width="0.85">
<rect x="395.83" y="293.66" width="16.67" height="16.68" fill="#4166c9"/>
<rect x="412.50" y="293.66" width="16.67" height="16.68" fill="#4166c9"/>
<rect x="429.17" y="293.66" width="16.67" height="16.68" fill="#30123b"/>
<rect x="445.83" y="293.66" width="16.67" height="16.68" fill="#30123b"/>
<rect x="462.50" y="293.66" width="16.67" height="16.68" fill="#30123b"/>
<rect x="479.17" y="293.66" width="16.67" height="16.68" fill="#30123b"/>
<rect x="495.83" y="293.66" width="16.67" height="16.68" fill="#30123b"/>
<rect x="512.50" y="293.66" width="16.67" height="16.68" fill="#30123b"/>
<rect x="395.83" y="276.99" width="16.67" height="16.68" fill="#4166c9"/>
<rect x="412.50" y="276.99" width="16.67" height="16.68" fill="#4166c9"/>
<rect x="445.83" y="276.99" width="16.67" height="16.68" fill="#30123b"/>
<rect x="462.50" y="276.99" width="16.67" height="16.68" fill="#30123b"/>
<rect x="479.17" y="276.99" width="16.67" height="16.68" fill="#30123b"/>
<rect x="495.83" y="276.99" width="16.67" height="16.68" fill="#30123b"/>
<rect x="512.50" y="276.99" width="16.67" height="16.68" fill="#30123b"/>
<rect x="379.17" y="260.31" width="16.67" height="16.68" fill="#4166c9"/>
<rect x="395.83" y="260.31" width="16.67" height="16.68" fill="#4166c9"/>
<rect x="412.50" y="260.31" width="16.67" height="16.68" fill="#4166c9"/>
<rect x="445.83" y="260.31" width="16.67" height="16.68" fill="#30123b"/>
<rect x="462.50" y="260.31" width="16.67" height="16.68" fill="#30123b"/>
<rect x="479.17" y="260.31" width="16.67" height="16.68" fill="#30123b"/>
<rect x="495.83" y="260.31" width="16.67" height="16.68" fill="#30123b"/>
<rect x="512.50" y="260.31" width="16.67" height="16.68" fill="#30123b"/>
<rect x="379.17" y="243.63" width="16.67" height="16.68" fill="#4166c9"/>
<rect x="395.83" y="243.63" width="16.67" height="16.68" fill="#4166c9"/>
<rect x="412.50" y="243.63" width="16.67" height="16.68" fill="#4166c9"/>
<rect x="429.17" y="243.63" width="16.67" height="16.68" fill="#30123b"/>
<rect x="445.83" y="243.63" width="16.67" height="16.68" fill="#30123b"/>
<rect x="462.50" y="243.63" width="16.67" height="16.68" fill="#30123b"/>
<rect x="479.17" y="243.63" width="16.67" height="16.68" fill="#30123b"/>
<rect x="495.83" y="243.63" width="16.67" height="16.68" fill="#30123b"/>
<rect x="512.50" y="243.63" width="16.67" height="16.68" fill="#30123b"/>
<rect x="362.50" y="226.96" width="16.67" height="16.68" fill="#4166c9"/>
<rect x="379.17" y="226.96" width="16.67" height="16.68" fill="#4166c9"/>
<rect x="395.83" y="226.96" width="16.67" height="16.68" fill="#4166c9"/>
<rect x="429.17" y="226.96" width="16.67" height="16.68" fill="#30123b"/>
<rect x="445.83" y="226.96" width="16.67" height="16.68" fill="#30123b"/>
<rect x="462.50" y="226.96" width="16.67" height="16.68" fill="#30123b"/>
<rect x="479.17" y="226.96" width="16.67" height="16.68" fill="#30123b"/>
<rect x="495.83" y="226.96" width="16.67" height="16.68" fill="#30123b"/>
<rect x="512.50" y="226.96" width="16.67" height="16.68" fill="#30123b"/>
<rect x="345.83" y="210.28" width="16.67" height="16.68" fill="#4166c9"/>
<rect x="362.50" y="210.28" width="16.67" height="16.68" fill="#4166c9"/>
<rect x="379.17" y="210.28" width="16.67" height="16.68" fill="#4166c9"/>
<rect x="412.50" y="210.28" width="16.67" height="16.68" fill="#30123b"/>
<rect x="429.17" y="210.28" width="16.67" height="16.68" fill="#30123b"/>
<rect x="445.83" y="210.28" width="16.67" height="16.68" fill="#30123b"/>
<rect x="462.50" y="210.28" width="16.67" height="16.68" fill="#30123b"/>
<rect x="479.17" y="210.28" width="16.67" height="16.68" fill="#30123b"/>
<rect x="495.83" y="210.28" width="16.67" height="16.68" fill="#30123b"/>
<rect x="512.50" y="210.28" width="16.67" height="16.68" fill="#30123b"/>
<rect x="345.83" y="193.60" width="16.67" height="16.68" fill="#4166c9"/>
<rect x="362.50" y="193.60" width="16.67" height="16.68" fill="#4166c9"/>
<rect x="412.50" y="193.60" width="16.67" height="16.68" fill="#30123b"/>
<rect x="429.17" y="193.60" width="16.67" height="16.68" fill="#30123b"/>
<rect x="445.83" y="193.60" width="16.67" height="16.68" fill="#30123b"/>
<rect x="462.50" y="193.60" width="16.67" height="16.68" fill="#30123b"/>
<rect x="479.17" y="193.60" width="16.67" height="16.68" fill="#30123b"/>
<rect x="495.83" y="193.60" width="16.67" height="16.68" fill="#30123b"/>
<rect x="512.50" y="193.60" width="16.67" height="16.68" fill="#4166c9"/>
<rect x="329.17" y="176.93" width="16.67" height="16.68" fill="#4166c9"/>
<rect x="345.83" y="176.93" width="16.67" height="16.68" fill="#4166c9"/>
<rect x="395.83" y="176.93" width="16.67" height="16.68" fill="#30123b"/>
<rect x="412.50" y="176.93" width="16.67" height="16.68" fill="#30123b"/>
<rect x="429.17" y="176.93" width="16.67" height="16.68" fill="#30123b"/>
<rect x="445.83" y="176.93" width="16.67" height="16.68" fill="#30123b"/>
<rect x="462.50" y="176.93" width="16.67" height="16.68" fill="#30123b"/>
<rect x="479.17" y="176.93" width="16.67" height="16.68" fill="#30123b"/>
<rect x="495.83" y="176.93" width="16.67" height="16.68" fill="#30123b"/>
<rect x="379.17" y="160.25" width="16.67" height="16.68" fill="#30123b"/>
<rect x="395.83" y="160.25" width="16.67" height="16.68" fill="#30123b"/>
<rect x="412.50" y="160.25" width="16.67" height="16.68" fill="#30123b"/>
<rect x="429.17" y="160.25" width="16.67" height="16.68" fill="#30123b"/>
<rect x="445.83" y="160.25" width="16.67" height="16.68" fill="#4166c9"/>
<rect x="462.50" y="160.25" width="16.67" height="16.68" fill="#30123b"/>
<rect x="479.17" y="160.25" width="16.67" height="16.68" fill="#30123b"/>
<rect x="495.83" y="160.25" width="16.67" height="16.68" fill="#4166c9"/>
<rect x="395.83" y="143.57" width="16.67" height="16.68" fill="#4166c9"/>
<rect x="412.50" y="143.57" width="16.67" height="16.68" fill="#30123b"/>
<rect x="429.17" y="143.57" width="16.67" height="16.68" fill="#30123b"/>
<rect x="445.83" y="143.57" width="16.67" height="16.68" fill="#4166c9"/>
<rect x="462.50" y="143.57" width="16.67" height="16.68" fill="#4166c9"/>
<rect x="479.17" y="143.57" width="16.67" height="16.68" fill="#4166c9"/>
<rect x="495.83" y="143.57" width="16.67" height="16.68" fill="#4166c9"/>
<rect x="395.83" y="126.90" width="16.67" height="16.68" fill="#4166c9"/>
<rect x="412.50" y="126.90" width="16.67" height="16.68" fill="#4166c9"/>
<rect x="429.17" y="126.90" width="16.67" height="16.68" fill="#4166c9"/>
<rect x="445.83" y="126.90" width="16.67" height="16.68" fill="#4166c9"/>
<rect x="462.50" y="126.90" width="16.67" height="16.68" fill="#4166c9"/>
<rect x="479.17" y="126.90" width="16.67" height="16.68" fill="#4166c9"/>
<rect x="379.17" y="110.22" width="16.67" height="16.68" fill="#4166c9"/>
<rect x="395.83" y="110.22" width="16.67" height="16.68" fill="#4166c9"/>
<rect x="412.50" y="110.22" width="16.67" height="16.68" fill="#4166c9"/>
<rect x="429.17" y="110.22" width="16.67" height="16.68" fill="#4166c9"/>
<rect x="445.83" y="110.22" width="16.67" height="16.68" fill="#4166c9"/>
<rect x="462.50" y="110.22" width="16.67" height="16.68" fill="#4166c9"/>
<rect x="379.17" y="93.54" width="16.67" height="16.68" fill="#4166c9"/>
<rect x="395.83" y="93.54" width="16.67" height="16.68" fill="#4166c9"/>
<rect x="412.50" y="93.54" width="16.67" height="16.68" fill="#4166c9"/>
<rect x="429.17" y="93.54" width="16.67" height="16.68" fill="#4166c9"/>
<rect x="445.83" y="93.54" width="16.67" height="16.68" fill="#4166c9"/>
<rect x="379.17" y="76.87" width="16.67" height="16.68" fill="#4166c9"/>
<rect x="395.83" y="76.87" width="16.67" height="16.68" fill="#4166c9"/>
<rect x="412.50" y="76.87" width="16.67" height="16.68" fill="#4166c9"/>
<rect x="429.17" y="76.87" width="16.67" height="16.68" fill="#4166c9"/>
<rect x="379.17" y="60.19" width="16.67" height="16.68" fill="#4166c9"/>
<rect x="395.83" y="60.19" width="16.67" height="16.68" fill="#4166c9"/>
<rect x="412.50" y="60.19" width="16.67" height="16.68" fill="#4166c9"/>
</g>
<g clip-path="url(#cp2)" stroke="#fff" stroke-width="0.85">
<rect x="642.94" y="293.66" width="16.65" height="16.68" fill="#4166c9"/>
<rect x="676.25" y="293.66" width="16.65" height="16.68" fill="#30123b"/>
<rect x="692.91" y="293.66" width="16.65" height="16.68" fill="#30123b"/>
<rect x="709.56" y="293.66" width="16.65" height="16.68" fill="#30123b"/>
<rect x="726.21" y="293.66" width="16.65" height="16.68" fill="#30123b"/>
<rect x="742.87" y="293.66" width="16.65" height="16.68" fill="#30123b"/>
<rect x="626.29" y="276.99" width="16.65" height="16.68" fill="#4166c9"/>
<rect x="642.94" y="276.99" width="16.65" height="16.68" fill="#4166c9"/>
<rect x="676.25" y="276.99" width="16.65" height="16.68" fill="#30123b"/>
<rect x="692.91" y="276.99" width="16.65" height="16.68" fill="#30123b"/>
<rect x="709.56" y="276.99" width="16.65" height="16.68" fill="#30123b"/>
<rect x="726.21" y="276.99" width="16.65" height="16.68" fill="#30123b"/>
<rect x="742.87" y="276.99" width="16.65" height="16.68" fill="#30123b"/>
<rect x="626.29" y="260.31" width="16.65" height="16.68" fill="#4166c9"/>
<rect x="642.94" y="260.31" width="16.65" height="16.68" fill="#4166c9"/>
<rect x="676.25" y="260.31" width="16.65" height="16.68" fill="#30123b"/>
<rect x="692.91" y="260.31" width="16.65" height="16.68" fill="#30123b"/>
<rect x="709.56" y="260.31" width="16.65" height="16.68" fill="#30123b"/>
<rect x="726.21" y="260.31" width="16.65" height="16.68" fill="#30123b"/>
<rect x="742.87" y="260.31" width="16.65" height="16.68" fill="#30123b"/>
<rect x="609.64" y="243.63" width="16.65" height="16.68" fill="#4166c9"/>
<rect x="626.29" y="243.63" width="16.65" height="16.68" fill="#4166c9"/>
<rect x="659.60" y="243.63" width="16.65" height="16.68" fill="#30123b"/>
<rect x="676.25" y="243.63" width="16.65" height="16.68" fill="#30123b"/>
<rect x="692.91" y="243.63" width="16.65" height="16.68" fill="#30123b"/>
<rect x="709.56" y="243.63" width="16.65" height="16.68" fill="#30123b"/>
<rect x="726.21" y="243.63" width="16.65" height="16.68" fill="#30123b"/>
<rect x="742.87" y="243.63" width="16.65" height="16.68" fill="#30123b"/>
<rect x="609.64" y="226.96" width="16.65" height="16.68" fill="#4166c9"/>
<rect x="626.29" y="226.96" width="16.65" height="16.68" fill="#4166c9"/>
<rect x="659.60" y="226.96" width="16.65" height="16.68" fill="#30123b"/>
<rect x="676.25" y="226.96" width="16.65" height="16.68" fill="#30123b"/>
<rect x="692.91" y="226.96" width="16.65" height="16.68" fill="#30123b"/>
<rect x="709.56" y="226.96" width="16.65" height="16.68" fill="#30123b"/>
<rect x="726.21" y="226.96" width="16.65" height="16.68" fill="#30123b"/>
<rect x="742.87" y="226.96" width="16.65" height="16.68" fill="#4166c9"/>
<rect x="592.98" y="210.28" width="16.65" height="16.68" fill="#4166c9"/>
<rect x="609.64" y="210.28" width="16.65" height="16.68" fill="#4166c9"/>
<rect x="642.94" y="210.28" width="16.65" height="16.68" fill="#30123b"/>
<rect x="659.60" y="210.28" width="16.65" height="16.68" fill="#30123b"/>
<rect x="676.25" y="210.28" width="16.65" height="16.68" fill="#30123b"/>
<rect x="692.91" y="210.28" width="16.65" height="16.68" fill="#30123b"/>
<rect x="709.56" y="210.28" width="16.65" height="16.68" fill="#30123b"/>
<rect x="726.21" y="210.28" width="16.65" height="16.68" fill="#30123b"/>
<rect x="742.87" y="210.28" width="16.65" height="16.68" fill="#4166c9"/>
<rect x="576.33" y="193.60" width="16.65" height="16.68" fill="#4166c9"/>
<rect x="592.98" y="193.60" width="16.65" height="16.68" fill="#4166c9"/>
<rect x="642.94" y="193.60" width="16.65" height="16.68" fill="#30123b"/>
<rect x="659.60" y="193.60" width="16.65" height="16.68" fill="#30123b"/>
<rect x="676.25" y="193.60" width="16.65" height="16.68" fill="#30123b"/>
<rect x="692.91" y="193.60" width="16.65" height="16.68" fill="#4166c9"/>
<rect x="709.56" y="193.60" width="16.65" height="16.68" fill="#30123b"/>
<rect x="726.21" y="193.60" width="16.65" height="16.68" fill="#4166c9"/>
<rect x="742.87" y="193.60" width="16.65" height="16.68" fill="#4166c9"/>
<rect x="559.67" y="176.93" width="16.65" height="16.68" fill="#4166c9"/>
<rect x="576.33" y="176.93" width="16.65" height="16.68" fill="#4166c9"/>
<rect x="626.29" y="176.93" width="16.65" height="16.68" fill="#4166c9"/>
<rect x="642.94" y="176.93" width="16.65" height="16.68" fill="#4166c9"/>
<rect x="659.60" y="176.93" width="16.65" height="16.68" fill="#4166c9"/>
<rect x="676.25" y="176.93" width="16.65" height="16.68" fill="#4166c9"/>
<rect x="692.91" y="176.93" width="16.65" height="16.68" fill="#4166c9"/>
<rect x="709.56" y="176.93" width="16.65" height="16.68" fill="#4166c9"/>
<rect x="726.21" y="176.93" width="16.65" height="16.68" fill="#4166c9"/>
<rect x="609.64" y="160.25" width="16.65" height="16.68" fill="#4166c9"/>
<rect x="626.29" y="160.25" width="16.65" height="16.68" fill="#4166c9"/>
<rect x="642.94" y="160.25" width="16.65" height="16.68" fill="#4166c9"/>
<rect x="659.60" y="160.25" width="16.65" height="16.68" fill="#4166c9"/>
<rect x="676.25" y="160.25" width="16.65" height="16.68" fill="#4166c9"/>
<rect x="692.91" y="160.25" width="16.65" height="16.68" fill="#4166c9"/>
<rect x="709.56" y="160.25" width="16.65" height="16.68" fill="#4166c9"/>
<rect x="726.21" y="160.25" width="16.65" height="16.68" fill="#4166c9"/>
<rect x="626.29" y="143.57" width="16.65" height="16.68" fill="#4166c9"/>
<rect x="642.94" y="143.57" width="16.65" height="16.68" fill="#4166c9"/>
<rect x="659.60" y="143.57" width="16.65" height="16.68" fill="#4166c9"/>
<rect x="676.25" y="143.57" width="16.65" height="16.68" fill="#4166c9"/>
<rect x="692.91" y="143.57" width="16.65" height="16.68" fill="#4166c9"/>
<rect x="709.56" y="143.57" width="16.65" height="16.68" fill="#4166c9"/>
<rect x="626.29" y="126.90" width="16.65" height="16.68" fill="#4166c9"/>
<rect x="642.94" y="126.90" width="16.65" height="16.68" fill="#4166c9"/>
<rect x="659.60" y="126.90" width="16.65" height="16.68" fill="#4166c9"/>
<rect x="676.25" y="126.90" width="16.65" height="16.68" fill="#4166c9"/>
<rect x="692.91" y="126.90" width="16.65" height="16.68" fill="#4166c9"/>
<rect x="709.56" y="126.90" width="16.65" height="16.68" fill="#4166c9"/>
<rect x="609.64" y="110.22" width="16.65" height="16.68" fill="#4166c9"/>
<rect x="626.29" y="110.22" width="16.65" height="16.68" fill="#4166c9"/>
<rect x="642.94" y="110.22" width="16.65" height="16.68" fill="#4166c9"/>
<rect x="659.60" y="110.22" width="16.65" height="16.68" fill="#4166c9"/>
<rect x="676.25" y="110.22" width="16.65" height="16.68" fill="#4166c9"/>
<rect x="692.91" y="110.22" width="16.65" height="16.68" fill="#4166c9"/>
<rect x="609.64" y="93.54" width="16.65" height="16.68" fill="#4166c9"/>
<rect x="626.29" y="93.54" width="16.65" height="16.68" fill="#4166c9"/>
<rect x="642.94" y="93.54" width="16.65" height="16.68" fill="#4166c9"/>
<rect x="659.60" y="93.54" width="16.65" height="16.68" fill="#4166c9"/>
<rect x="676.25" y="93.54" width="16.65" height="16.68" fill="#4166c9"/>
<rect x="609.64" y="76.87" width="16.65" height="16.68" fill="#4166c9"/>
<rect x="626.29" y="76.87" width="16.65" height="16.68" fill="#4166c9"/>
<rect x="642.94" y="76.87" width="16.65" height="16.68" fill="#4166c9"/>
<rect x="659.60" y="76.87" width="16.65" height="16.68" fill="#4166c9"/>
<rect x="609.64" y="60.19" width="16.65" height="16.68" fill="#4166c9"/>
<rect x="626.29" y="60.19" width="16.65" height="16.68" fill="#4166c9"/>
<rect x="642.94" y="60.19" width="16.65" height="16.68" fill="#4166c9"/>
</g>
<g fill="none" stroke="#000" stroke-width="1.15">
<rect x="106.25" y="51.85" width="199.95" height="250.15"/>
<path d="M139.57 302.00v4.4"/>
<path d="M222.89 302.00v4.4"/>
<path d="M306.20 302.00v4.4"/>
<path d="M106.25 302.00h-4.4"/>
<path d="M106.25 218.62h-4.4"/>
<path d="M106.25 135.23h-4.4"/>
<path d="M106.25 51.85h-4.4"/>
<rect x="337.50" y="51.85" width="200.00" height="250.15"/>
<path d="M370.83 302.00v4.4"/>
<path d="M454.17 302.00v4.4"/>
<path d="M537.50 302.00v4.4"/>
<path d="M337.50 302.00h-4.4"/>
<path d="M337.50 218.62h-4.4"/>
<path d="M337.50 135.23h-4.4"/>
<path d="M337.50 51.85h-4.4"/>
<rect x="568.00" y="51.85" width="199.85" height="250.15"/>
<path d="M601.31 302.00v4.4"/>
<path d="M684.58 302.00v4.4"/>
<path d="M767.85 302.00v4.4"/>
<path d="M568.00 302.00h-4.4"/>
<path d="M568.00 218.62h-4.4"/>
<path d="M568.00 135.23h-4.4"/>
<path d="M568.00 51.85h-4.4"/>
</g>
<rect x="780.3" y="50.2" width="12.50" height="84.40" fill="#27d6a6"/>
<rect x="780.3" y="134.60" width="12.50" height="84.40" fill="#4166c9"/>
<rect x="780.3" y="219.00" width="12.50" height="84.40" fill="#30123b"/>
<g fill="none" stroke="#000" stroke-width="0.95">
<rect x="780.3" y="50.2" width="12.50" height="253.20"/>
<path d="M792.8 50.20h2.6"/>
<path d="M792.8 134.60h2.6"/>
<path d="M792.8 219.00h2.6"/>
<path d="M792.8 303.40h2.6"/>
<path d="M792.8 92.40h4.2"/>
<path d="M792.8 176.80h4.2"/>
<path d="M792.8 261.20h4.2"/>
</g>
<g font-family="'DejaVu Sans','Liberation Sans',sans-serif" font-size="24.6" fill="#000">
<text x="139.57" y="329.6" text-anchor="middle">−50</text>
<text x="222.89" y="329.6" text-anchor="middle">−25</text>
<text x="306.20" y="329.6" text-anchor="middle">0</text>
<text x="370.83" y="329.6" text-anchor="middle">−50</text>
<text x="454.17" y="329.6" text-anchor="middle">−25</text>
<text x="537.50" y="329.6" text-anchor="middle">0</text>
<text x="601.31" y="329.6" text-anchor="middle">−50</text>
<text x="684.58" y="329.6" text-anchor="middle">−25</text>
<text x="767.85" y="329.6" text-anchor="middle">0</text>
<text x="97.9" y="311.20" text-anchor="end">0.0</text>
<text x="97.9" y="227.82" text-anchor="end">0.5</text>
<text x="97.9" y="144.43" text-anchor="end">1.0</text>
<text x="97.9" y="61.05" text-anchor="end">1.5</text>
<text x="801.0" y="102.20">-2</text>
<text x="801.0" y="186.60">-1</text>
<text x="801.0" y="271.00">0</text>
</g>
<g font-family="'Liberation Serif','DejaVu Serif',serif" fill="#000" stroke="#000" stroke-width="0.3" text-rendering="geometricPrecision">
<text id="t1" x="121.1" y="31.8" font-size="25" textLength="44.47" lengthAdjust="spacingAndGlyphs">Free</text>
<text id="t1b" x="166.76" y="31.8" font-size="25" textLength="9.5" lengthAdjust="spacingAndGlyphs">(</text>
<text id="t1c" x="176.32" y="31.8" font-size="25" textLength="110.77" lengthAdjust="spacingAndGlyphs">continuum</text>
<text id="t1d" x="287.71" y="31.8" font-size="25" textLength="9.87" lengthAdjust="spacingAndGlyphs">)</text>
<text id="t2" x="406.83" y="31.8" font-size="25" textLength="47.14" lengthAdjust="spacingAndGlyphs">Fock</text>
<text id="t3" x="586.87" y="31.8" font-size="25" textLength="79.17" lengthAdjust="spacingAndGlyphs">Hartree</text>
<text id="t3b" x="672.6" y="33.2" font-size="31" textLength="17.4" lengthAdjust="spacingAndGlyphs">+</text>
<text id="t3c" x="696.13" y="31.8" font-size="25" textLength="46.93" lengthAdjust="spacingAndGlyphs">Fock</text>
<text id="tc" x="778.7" y="34.5" font-size="24.8" font-style="italic" stroke-width="0.5" textLength="14" lengthAdjust="spacingAndGlyphs">C</text>
<text id="txu" x="379.7" y="371.4" font-size="31" font-style="italic" textLength="17.0" lengthAdjust="spacingAndGlyphs">u</text>
<text id="txd" x="397.6" y="376.3" font-size="23.5" font-style="italic" textLength="11.85" lengthAdjust="spacingAndGlyphs">d</text>
<text id="txb1" x="412.8" y="372.9" font-size="33" textLength="9.79" lengthAdjust="spacingAndGlyphs">[</text>
<text id="txm" x="422.96" y="371.6" font-size="30.3" textLength="20.52" lengthAdjust="spacingAndGlyphs">m</text>
<text id="txe" x="443.17" y="371.6" font-size="30.3" textLength="16.61" lengthAdjust="spacingAndGlyphs">e</text>
<text id="txV" x="459.48" y="371.6" font-size="30.3" textLength="19.04" lengthAdjust="spacingAndGlyphs">V</text>
<text id="txb2" x="478.25" y="372.9" font-size="33" textLength="9.37" lengthAdjust="spacingAndGlyphs">]</text>
<g transform="translate(30.3 223.4) rotate(-90)">
<text id="tyt" x="-1.26" y="0" font-size="30.5" font-style="italic" textLength="15.15" lengthAdjust="spacingAndGlyphs">θ</text>
<text id="tyb1" x="23.74" y="1.3" font-size="33" textLength="9.08" lengthAdjust="spacingAndGlyphs">[</text>
<text id="tyd" x="33.89" y="0" font-size="30.3" textLength="13.86" lengthAdjust="spacingAndGlyphs">d</text>
<text id="tye" x="49.6" y="0" font-size="30.3" textLength="14.86" lengthAdjust="spacingAndGlyphs">e</text>
<text id="tyg" x="64.0" y="0" font-size="30.3" textLength="14.59" lengthAdjust="spacingAndGlyphs">g</text>
<text id="tydot" x="77.95" y="0" font-size="23">.</text>
<text id="tyb2" x="87.55" y="1.3" font-size="33" textLength="9.37" lengthAdjust="spacingAndGlyphs">]</text>
</g>
</g>
</svg>
</body></html>
